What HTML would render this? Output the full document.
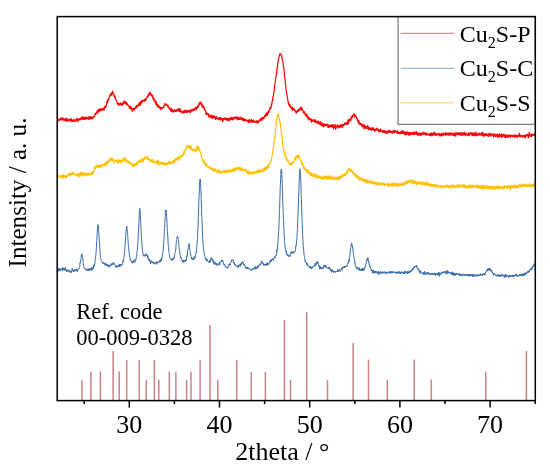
<!DOCTYPE html>
<html><head><meta charset="utf-8"><style>
html,body{margin:0;padding:0;background:#fff;}
svg{display:block;}
text{font-family:"Liberation Serif","Times New Roman",serif;fill:#000;}
</style></head><body>
<svg width="550" height="474" viewBox="0 0 550 474">
<rect width="550" height="474" fill="#fff"/>
<g fill="none" stroke-linejoin="round">
<path d="M57.2 119.9L57.4 120.1L57.6 119.6L57.8 119.1L58.0 119.5L58.2 119.0L58.4 119.9L58.6 120.9L58.8 119.4L59.0 119.3L59.2 120.2L59.4 120.1L59.6 119.9L59.8 119.0L60.0 119.7L60.2 120.3L60.4 118.6L60.6 119.4L60.8 118.1L61.0 118.6L61.2 118.2L61.4 119.5L61.6 118.6L61.8 119.9L62.0 119.8L62.2 119.6L62.4 117.6L62.6 119.3L62.8 119.7L63.0 119.8L63.2 118.4L63.4 119.3L63.6 118.9L63.8 119.0L64.0 120.6L64.2 119.0L64.4 119.7L64.6 120.5L64.8 119.2L65.0 119.6L65.2 119.8L65.4 119.8L65.6 118.7L65.8 119.8L66.0 120.9L66.2 118.4L66.4 120.4L66.6 119.8L66.8 119.2L67.0 121.5L67.2 120.4L67.4 118.8L67.6 119.9L67.8 120.3L68.0 119.7L68.2 120.5L68.4 119.8L68.6 120.5L68.8 121.2L69.0 119.4L69.2 120.2L69.4 119.6L69.6 120.2L69.8 119.1L70.0 119.6L70.2 120.0L70.4 120.9L70.6 121.2L70.8 119.1L71.0 119.6L71.2 120.8L71.4 118.6L71.6 119.9L71.8 120.2L72.0 121.4L72.2 120.9L72.4 120.1L72.6 120.1L72.8 120.2L73.0 121.7L73.2 120.0L73.4 120.1L73.6 120.7L73.8 120.3L74.0 120.2L74.2 119.4L74.4 120.3L74.6 120.0L74.8 121.3L75.0 120.9L75.2 120.3L75.4 120.8L75.6 119.9L75.8 121.1L76.0 120.1L76.2 120.6L76.4 119.0L76.6 120.3L76.8 118.6L77.0 118.2L77.2 119.6L77.4 119.1L77.6 119.9L77.8 121.7L78.0 119.0L78.2 119.1L78.4 119.8L78.6 120.0L78.8 119.3L79.0 119.3L79.2 120.0L79.4 119.8L79.6 118.4L79.8 119.2L80.0 119.2L80.2 118.2L80.4 119.3L80.6 118.3L80.8 119.8L81.0 119.1L81.2 118.9L81.4 118.3L81.6 118.7L81.8 117.0L82.0 117.7L82.2 118.9L82.4 116.8L82.6 119.3L82.8 117.0L83.0 119.1L83.2 117.7L83.4 119.1L83.6 118.5L83.8 117.1L84.0 119.4L84.2 119.5L84.4 118.2L84.6 118.0L84.8 118.1L85.0 117.4L85.2 119.2L85.4 117.7L85.6 118.2L85.8 117.5L86.0 117.6L86.2 117.1L86.4 119.2L86.6 118.0L86.8 119.0L87.0 118.1L87.2 117.5L87.4 117.8L87.6 117.6L87.8 118.1L88.0 117.8L88.2 117.8L88.4 116.9L88.6 117.4L88.8 119.5L89.0 117.5L89.2 117.1L89.4 118.3L89.6 119.2L89.8 116.8L90.0 117.8L90.2 117.5L90.4 116.5L90.6 118.6L90.8 117.9L91.0 118.0L91.2 117.3L91.4 118.3L91.6 117.4L91.8 117.7L92.0 116.9L92.2 116.8L92.4 118.9L92.6 117.3L92.8 118.0L93.0 117.7L93.2 117.2L93.4 117.0L93.6 117.7L93.8 116.6L94.0 116.4L94.2 116.2L94.4 116.8L94.6 116.0L94.8 115.4L95.0 114.2L95.2 113.2L95.4 114.9L95.6 114.7L95.8 113.5L96.0 113.8L96.2 113.7L96.4 113.4L96.6 113.3L96.8 111.8L97.0 113.3L97.2 110.7L97.4 112.3L97.6 111.8L97.8 112.0L98.0 112.7L98.2 112.3L98.4 110.0L98.6 109.4L98.8 111.5L99.0 109.8L99.2 110.6L99.4 111.3L99.6 109.1L99.8 108.7L100.0 110.6L100.2 110.4L100.4 110.1L100.6 110.3L100.8 109.5L101.0 108.9L101.2 110.0L101.4 109.2L101.6 108.6L101.8 110.4L102.0 109.8L102.2 110.1L102.4 108.9L102.6 109.0L102.8 108.7L103.0 108.6L103.2 109.4L103.4 108.4L103.6 109.3L103.8 109.1L104.0 110.3L104.2 107.2L104.4 108.9L104.6 107.9L104.8 107.7L105.0 106.2L105.2 106.8L105.4 107.6L105.6 106.6L105.8 106.4L106.0 105.6L106.2 106.4L106.4 104.9L106.6 102.5L106.8 103.2L107.0 101.6L107.2 100.0L107.4 101.7L107.6 102.8L107.8 101.2L108.0 99.6L108.2 99.3L108.4 100.5L108.6 99.1L108.8 98.4L109.0 97.8L109.2 97.3L109.4 97.5L109.6 96.9L109.8 96.2L110.0 94.9L110.2 95.9L110.4 94.6L110.6 95.8L110.8 93.5L111.0 94.2L111.2 94.1L111.4 92.8L111.6 95.2L111.8 94.8L112.0 93.0L112.2 93.9L112.4 93.5L112.6 91.0L112.8 93.5L113.0 93.3L113.2 93.6L113.4 92.9L113.6 93.9L113.8 94.3L114.0 95.9L114.2 95.6L114.4 95.8L114.6 97.5L114.8 96.2L115.0 96.8L115.2 96.0L115.4 99.2L115.6 99.1L115.8 99.5L116.0 99.7L116.2 99.7L116.4 100.3L116.6 100.4L116.8 101.0L117.0 101.7L117.2 103.4L117.4 103.1L117.6 103.0L117.8 102.9L118.0 103.2L118.2 105.4L118.4 104.6L118.6 104.3L118.8 104.0L119.0 103.4L119.2 104.2L119.4 105.0L119.6 104.0L119.8 104.1L120.0 104.1L120.2 104.3L120.4 102.9L120.6 104.0L120.8 103.5L121.0 105.0L121.2 103.5L121.4 104.7L121.6 105.4L121.8 103.9L122.0 103.6L122.2 104.2L122.4 103.9L122.6 102.9L122.8 104.0L123.0 105.1L123.2 102.9L123.4 102.7L123.6 101.8L123.8 102.7L124.0 101.2L124.2 101.1L124.4 103.1L124.6 101.1L124.8 102.8L125.0 103.2L125.2 102.3L125.4 102.6L125.6 104.0L125.8 102.4L126.0 102.2L126.2 101.8L126.4 103.3L126.6 104.7L126.8 104.6L127.0 103.2L127.2 103.6L127.4 104.1L127.6 105.0L127.8 104.8L128.0 105.4L128.2 105.6L128.4 105.3L128.6 105.8L128.8 106.2L129.0 106.2L129.2 106.9L129.4 108.3L129.6 107.5L129.8 107.2L130.0 106.0L130.2 108.0L130.4 106.2L130.6 106.9L130.8 109.0L131.0 109.1L131.2 108.5L131.4 107.4L131.6 108.7L131.8 108.6L132.0 109.8L132.2 111.3L132.4 109.6L132.6 108.8L132.8 108.5L133.0 109.4L133.2 109.3L133.4 108.4L133.6 109.5L133.8 108.3L134.0 110.1L134.2 110.0L134.4 109.8L134.6 108.4L134.8 109.1L135.0 108.3L135.2 107.9L135.4 107.8L135.6 106.8L135.8 106.5L136.0 108.2L136.2 107.2L136.4 107.3L136.6 107.8L136.8 105.3L137.0 105.9L137.2 106.5L137.4 106.5L137.6 105.7L137.8 106.7L138.0 105.8L138.2 104.4L138.4 104.4L138.6 105.7L138.8 105.1L139.0 102.9L139.2 105.4L139.4 104.6L139.6 105.0L139.8 103.3L140.0 103.1L140.2 102.2L140.4 105.1L140.6 102.6L140.8 103.9L141.0 101.8L141.2 102.3L141.4 100.6L141.6 101.6L141.8 102.6L142.0 100.6L142.2 102.5L142.4 101.8L142.6 100.5L142.8 100.9L143.0 100.8L143.2 101.1L143.4 100.6L143.6 100.3L143.8 100.7L144.0 100.0L144.2 99.6L144.4 100.6L144.6 101.3L144.8 99.1L145.0 100.2L145.2 99.5L145.4 99.0L145.6 100.3L145.8 98.8L146.0 100.3L146.2 98.0L146.4 98.7L146.6 97.8L146.8 97.0L147.0 97.9L147.2 96.9L147.4 97.3L147.6 96.5L147.8 95.3L148.0 95.8L148.2 95.7L148.4 96.1L148.6 94.2L148.8 94.7L149.0 93.0L149.2 94.8L149.4 93.1L149.6 92.4L149.8 93.8L150.0 94.9L150.2 92.7L150.4 93.2L150.6 93.6L150.8 93.4L151.0 94.9L151.2 94.1L151.4 94.4L151.6 95.8L151.8 94.9L152.0 96.2L152.2 95.3L152.4 95.3L152.6 95.1L152.8 98.5L153.0 97.0L153.2 97.8L153.4 98.0L153.6 98.6L153.8 98.9L154.0 100.9L154.2 98.9L154.4 98.9L154.6 99.8L154.8 99.9L155.0 102.1L155.2 102.6L155.4 101.5L155.6 101.5L155.8 102.7L156.0 104.5L156.2 101.3L156.4 104.4L156.6 103.4L156.8 105.5L157.0 104.0L157.2 105.0L157.4 104.3L157.6 105.0L157.8 107.3L158.0 107.1L158.2 106.3L158.4 106.1L158.6 105.4L158.8 106.9L159.0 107.3L159.2 107.4L159.4 107.5L159.6 106.7L159.8 107.7L160.0 107.8L160.2 109.0L160.4 109.6L160.6 107.9L160.8 107.5L161.0 108.1L161.2 107.7L161.4 107.7L161.6 108.3L161.8 107.5L162.0 108.9L162.2 108.3L162.4 108.6L162.6 108.2L162.8 107.6L163.0 107.3L163.2 107.6L163.4 107.1L163.6 107.5L163.8 106.9L164.0 105.4L164.2 106.3L164.4 104.8L164.6 105.1L164.8 105.1L165.0 103.4L165.2 105.0L165.4 105.0L165.6 104.7L165.8 104.5L166.0 104.5L166.2 104.1L166.4 104.8L166.6 104.7L166.8 105.4L167.0 104.5L167.2 105.9L167.4 106.0L167.6 106.0L167.8 105.9L168.0 107.0L168.2 105.4L168.4 107.4L168.6 107.5L168.8 107.8L169.0 108.1L169.2 107.5L169.4 108.1L169.6 109.1L169.8 109.1L170.0 109.2L170.2 108.0L170.4 110.0L170.6 110.9L170.8 111.0L171.0 110.7L171.2 109.3L171.4 111.6L171.6 110.7L171.8 108.6L172.0 111.1L172.2 109.5L172.4 109.7L172.6 110.2L172.8 111.9L173.0 110.4L173.2 111.0L173.4 112.2L173.6 112.1L173.8 110.6L174.0 110.5L174.2 109.6L174.4 110.1L174.6 111.0L174.8 111.0L175.0 110.7L175.2 111.5L175.4 110.0L175.6 110.5L175.8 111.2L176.0 111.1L176.2 111.5L176.4 110.9L176.6 110.3L176.8 110.8L177.0 109.7L177.2 109.1L177.4 111.0L177.6 110.5L177.8 110.8L178.0 109.1L178.2 110.2L178.4 110.0L178.6 109.8L178.8 108.6L179.0 110.3L179.2 111.4L179.4 111.0L179.6 110.2L179.8 110.7L180.0 111.5L180.2 108.5L180.4 110.8L180.6 111.5L180.8 111.6L181.0 112.6L181.2 112.1L181.4 111.5L181.6 111.5L181.8 112.0L182.0 110.9L182.2 111.4L182.4 112.3L182.6 113.2L182.8 111.4L183.0 111.5L183.2 111.8L183.4 112.7L183.6 111.6L183.8 112.8L184.0 110.8L184.2 111.4L184.4 111.4L184.6 112.2L184.8 112.5L185.0 110.3L185.2 110.8L185.4 111.8L185.6 111.0L185.8 110.2L186.0 112.4L186.2 111.9L186.4 111.9L186.6 111.0L186.8 112.3L187.0 111.2L187.2 112.3L187.4 110.5L187.6 110.6L187.8 111.4L188.0 110.6L188.2 111.8L188.4 111.4L188.6 110.3L188.8 111.1L189.0 110.7L189.2 111.8L189.4 110.4L189.6 110.6L189.8 111.9L190.0 112.7L190.2 112.5L190.4 110.8L190.6 110.9L190.8 112.0L191.0 110.5L191.2 109.7L191.4 110.6L191.6 110.9L191.8 109.7L192.0 109.0L192.2 109.1L192.4 110.8L192.6 109.6L192.8 110.0L193.0 110.2L193.2 110.5L193.4 109.6L193.6 110.2L193.8 108.9L194.0 109.2L194.2 108.5L194.4 110.2L194.6 109.1L194.8 108.3L195.0 108.5L195.2 108.4L195.4 109.1L195.6 107.0L195.8 107.3L196.0 107.7L196.2 110.0L196.4 108.5L196.6 107.4L196.8 107.9L197.0 108.9L197.2 106.7L197.4 106.3L197.6 107.4L197.8 106.5L198.0 106.4L198.2 105.1L198.4 106.9L198.6 106.4L198.8 105.2L199.0 105.0L199.2 102.5L199.4 104.6L199.6 103.7L199.8 104.1L200.0 104.2L200.2 103.2L200.4 102.1L200.6 103.8L200.8 103.0L201.0 103.5L201.2 103.4L201.4 103.9L201.6 102.5L201.8 105.8L202.0 105.3L202.2 106.3L202.4 107.4L202.6 106.1L202.8 104.8L203.0 105.9L203.2 106.0L203.4 106.9L203.6 107.7L203.8 106.3L204.0 108.7L204.2 107.6L204.4 109.5L204.6 109.6L204.8 109.9L205.0 110.5L205.2 110.5L205.4 110.9L205.6 110.4L205.8 112.1L206.0 114.0L206.2 114.4L206.4 114.1L206.6 113.8L206.8 112.8L207.0 114.9L207.2 113.8L207.4 113.9L207.6 113.9L207.8 114.4L208.0 114.2L208.2 114.6L208.4 113.9L208.6 114.7L208.8 117.1L209.0 115.2L209.2 115.2L209.4 116.0L209.6 116.3L209.8 114.8L210.0 115.7L210.2 116.8L210.4 116.3L210.6 116.3L210.8 117.6L211.0 115.8L211.2 116.6L211.4 116.1L211.6 117.9L211.8 115.1L212.0 116.3L212.2 116.5L212.4 117.5L212.6 117.6L212.8 118.3L213.0 115.9L213.2 117.9L213.4 117.1L213.6 116.9L213.8 117.9L214.0 116.8L214.2 115.8L214.4 117.4L214.6 116.5L214.8 117.2L215.0 118.2L215.2 118.2L215.4 119.3L215.6 117.8L215.8 116.8L216.0 117.5L216.2 117.4L216.4 117.2L216.6 118.6L216.8 117.7L217.0 116.7L217.2 119.0L217.4 118.3L217.6 118.8L217.8 118.6L218.0 119.1L218.2 118.6L218.4 119.7L218.6 119.0L218.8 119.0L219.0 119.1L219.2 117.5L219.4 118.7L219.6 118.6L219.8 119.1L220.0 117.8L220.2 120.4L220.4 119.1L220.6 118.0L220.8 117.6L221.0 118.9L221.2 119.1L221.4 118.6L221.6 119.3L221.8 118.7L222.0 119.7L222.2 118.7L222.4 119.3L222.6 120.2L222.8 121.6L223.0 118.5L223.2 119.0L223.4 118.7L223.6 120.1L223.8 118.5L224.0 119.1L224.2 119.5L224.4 118.7L224.6 118.7L224.8 119.1L225.0 117.7L225.2 118.3L225.4 119.1L225.6 119.6L225.8 119.3L226.0 118.0L226.2 119.1L226.4 120.1L226.6 119.9L226.8 119.3L227.0 118.6L227.2 119.9L227.4 118.8L227.6 118.3L227.8 118.6L228.0 120.4L228.2 119.4L228.4 120.1L228.6 118.7L228.8 119.9L229.0 118.5L229.2 118.8L229.4 121.0L229.6 119.5L229.8 118.4L230.0 118.7L230.2 119.0L230.4 119.7L230.6 118.3L230.8 117.1L231.0 118.3L231.2 118.6L231.4 118.6L231.6 119.6L231.8 118.7L232.0 119.1L232.2 117.4L232.4 119.0L232.6 120.0L232.8 118.9L233.0 118.4L233.2 118.3L233.4 119.6L233.6 117.3L233.8 117.9L234.0 118.4L234.2 118.6L234.4 117.6L234.6 118.2L234.8 117.7L235.0 118.0L235.2 117.7L235.4 116.9L235.6 117.8L235.8 118.6L236.0 117.0L236.2 117.6L236.4 118.4L236.6 116.9L236.8 118.0L237.0 116.9L237.2 118.8L237.4 119.8L237.6 119.6L237.8 117.7L238.0 118.6L238.2 118.1L238.4 118.1L238.6 119.4L238.8 117.0L239.0 119.0L239.2 118.1L239.4 119.4L239.6 118.4L239.8 117.8L240.0 118.6L240.2 119.1L240.4 118.5L240.6 119.0L240.8 118.2L241.0 116.9L241.2 119.5L241.4 119.4L241.6 119.0L241.8 119.0L242.0 119.9L242.2 118.7L242.4 118.6L242.6 119.1L242.8 120.3L243.0 118.2L243.2 120.5L243.4 119.0L243.6 118.6L243.8 120.7L244.0 119.6L244.2 118.7L244.4 119.5L244.6 120.7L244.8 121.0L245.0 119.7L245.2 120.5L245.4 120.8L245.6 119.7L245.8 120.6L246.0 120.3L246.2 119.9L246.4 120.0L246.6 120.5L246.8 120.5L247.0 120.1L247.2 120.2L247.4 121.6L247.6 120.9L247.8 121.5L248.0 121.7L248.2 121.3L248.4 122.7L248.6 120.1L248.8 121.5L249.0 120.6L249.2 122.5L249.4 122.4L249.6 119.3L249.8 120.1L250.0 121.6L250.2 121.7L250.4 121.7L250.6 121.0L250.8 121.5L251.0 121.7L251.2 121.1L251.4 122.1L251.6 119.3L251.8 121.8L252.0 120.4L252.2 122.1L252.4 121.1L252.6 120.6L252.8 121.7L253.0 120.6L253.2 120.6L253.4 120.1L253.6 121.4L253.8 121.9L254.0 122.3L254.2 121.3L254.4 122.4L254.6 121.5L254.8 121.4L255.0 122.0L255.2 122.4L255.4 121.3L255.6 121.4L255.8 121.4L256.0 121.6L256.2 120.8L256.4 122.5L256.6 121.3L256.8 122.0L257.0 120.9L257.2 121.9L257.4 121.9L257.6 121.2L257.8 123.3L258.0 121.8L258.2 123.0L258.4 122.2L258.6 120.8L258.8 120.9L259.0 121.5L259.2 121.1L259.4 121.0L259.6 120.6L259.8 119.2L260.0 120.4L260.2 118.6L260.4 120.7L260.6 119.6L260.8 119.5L261.0 119.8L261.2 120.1L261.4 118.5L261.6 118.1L261.8 118.5L262.0 117.5L262.2 118.2L262.4 120.2L262.6 117.7L262.8 119.0L263.0 117.0L263.2 118.2L263.4 117.5L263.6 117.5L263.8 117.8L264.0 118.5L264.2 117.0L264.4 116.7L264.6 115.5L264.8 116.6L265.0 115.7L265.2 116.4L265.4 115.4L265.6 116.7L265.8 113.4L266.0 114.6L266.2 115.4L266.4 114.1L266.6 113.6L266.8 113.8L267.0 112.6L267.2 113.7L267.4 115.4L267.6 114.1L267.8 112.0L268.0 111.9L268.2 112.0L268.4 113.0L268.6 111.1L268.8 111.0L269.0 112.0L269.2 111.6L269.4 110.2L269.6 109.2L269.8 108.5L270.0 108.8L270.2 107.0L270.4 109.0L270.6 107.3L270.8 107.6L271.0 108.2L271.2 106.9L271.4 104.2L271.6 105.2L271.8 104.7L272.0 102.3L272.2 101.3L272.4 101.1L272.6 99.0L272.8 100.6L273.0 96.2L273.2 96.1L273.4 95.5L273.6 94.2L273.8 93.1L274.0 91.7L274.2 89.8L274.4 89.4L274.6 85.1L274.8 85.4L275.0 83.3L275.2 82.6L275.4 81.3L275.6 78.9L275.8 77.6L276.0 77.3L276.2 75.3L276.4 72.9L276.6 73.6L276.8 72.3L277.0 67.6L277.2 67.6L277.4 68.0L277.6 65.2L277.8 63.4L278.0 61.8L278.2 60.4L278.4 59.7L278.6 58.4L278.8 58.5L279.0 56.7L279.2 55.9L279.4 54.7L279.6 55.1L279.8 53.9L280.0 54.0L280.2 54.7L280.4 53.9L280.6 54.1L280.8 54.2L281.0 54.4L281.2 54.8L281.4 55.3L281.6 56.9L281.8 56.1L282.0 58.9L282.2 58.5L282.4 58.8L282.6 59.9L282.8 60.9L283.0 62.7L283.2 63.4L283.4 66.6L283.6 66.7L283.8 67.3L284.0 70.4L284.2 71.2L284.4 74.6L284.6 77.2L284.8 78.5L285.0 78.5L285.2 80.6L285.4 84.4L285.6 84.8L285.8 86.1L286.0 88.5L286.2 91.2L286.4 91.6L286.6 92.1L286.8 93.8L287.0 95.6L287.2 96.0L287.4 97.0L287.6 99.2L287.8 99.4L288.0 101.1L288.2 101.9L288.4 104.5L288.6 102.4L288.8 103.6L289.0 104.0L289.2 105.1L289.4 106.0L289.6 105.2L289.8 105.3L290.0 104.9L290.2 105.9L290.4 107.4L290.6 107.3L290.8 106.6L291.0 107.4L291.2 108.0L291.4 108.6L291.6 107.8L291.8 108.3L292.0 107.1L292.2 107.9L292.4 110.4L292.6 107.3L292.8 109.0L293.0 109.6L293.2 109.2L293.4 109.0L293.6 109.8L293.8 109.9L294.0 110.0L294.2 108.6L294.4 110.2L294.6 109.8L294.8 110.2L295.0 111.0L295.2 111.5L295.4 111.9L295.6 110.8L295.8 112.1L296.0 112.5L296.2 112.6L296.4 112.9L296.6 111.6L296.8 111.6L297.0 112.5L297.2 110.6L297.4 111.9L297.6 111.1L297.8 111.1L298.0 109.7L298.2 110.2L298.4 110.7L298.6 111.3L298.8 111.1L299.0 109.9L299.2 109.5L299.4 108.7L299.6 109.5L299.8 108.8L300.0 109.3L300.2 110.1L300.4 108.5L300.6 107.2L300.8 107.7L301.0 107.2L301.2 107.5L301.4 109.7L301.6 109.0L301.8 107.7L302.0 109.8L302.2 110.5L302.4 109.4L302.6 109.4L302.8 110.0L303.0 110.9L303.2 111.5L303.4 112.3L303.6 112.7L303.8 113.0L304.0 113.4L304.2 113.1L304.4 111.5L304.6 113.0L304.8 113.6L305.0 113.3L305.2 114.6L305.4 113.8L305.6 113.6L305.8 115.9L306.0 115.5L306.2 115.4L306.4 116.3L306.6 116.7L306.8 116.3L307.0 114.2L307.2 116.0L307.4 116.5L307.6 116.3L307.8 117.5L308.0 118.6L308.2 117.4L308.4 117.0L308.6 119.9L308.8 118.0L309.0 117.5L309.2 118.9L309.4 119.2L309.6 118.3L309.8 119.7L310.0 118.7L310.2 118.4L310.4 119.5L310.6 120.1L310.8 119.0L311.0 119.9L311.2 119.6L311.4 122.1L311.6 119.2L311.8 121.1L312.0 119.9L312.2 119.9L312.4 120.7L312.6 120.9L312.8 121.3L313.0 120.5L313.2 119.8L313.4 119.9L313.6 120.9L313.8 121.0L314.0 121.7L314.2 120.9L314.4 121.6L314.6 122.0L314.8 120.9L315.0 119.6L315.2 119.9L315.4 119.7L315.6 122.4L315.8 120.4L316.0 122.2L316.2 121.8L316.4 122.8L316.6 122.3L316.8 121.4L317.0 121.4L317.2 121.8L317.4 122.0L317.6 121.5L317.8 122.0L318.0 123.6L318.2 120.9L318.4 122.7L318.6 121.9L318.8 122.9L319.0 123.6L319.2 123.0L319.4 123.9L319.6 122.0L319.8 124.4L320.0 123.1L320.2 124.2L320.4 124.0L320.6 121.7L320.8 123.3L321.0 124.2L321.2 125.4L321.4 124.4L321.6 124.4L321.8 123.1L322.0 125.6L322.2 125.9L322.4 124.5L322.6 124.3L322.8 123.2L323.0 125.4L323.2 127.0L323.4 125.4L323.6 125.9L323.8 125.3L324.0 124.1L324.2 126.1L324.4 124.0L324.6 124.9L324.8 125.4L325.0 125.9L325.2 125.6L325.4 125.6L325.6 124.7L325.8 124.3L326.0 125.5L326.2 124.9L326.4 124.4L326.6 124.5L326.8 125.2L327.0 124.1L327.2 124.5L327.4 124.3L327.6 125.9L327.8 126.2L328.0 127.6L328.2 124.6L328.4 125.4L328.6 126.7L328.8 125.8L329.0 125.8L329.2 127.5L329.4 125.8L329.6 125.2L329.8 125.1L330.0 126.5L330.2 126.5L330.4 125.1L330.6 125.5L330.8 126.8L331.0 126.9L331.2 125.8L331.4 126.9L331.6 126.9L331.8 124.9L332.0 126.2L332.2 126.9L332.4 126.0L332.6 124.7L332.8 126.3L333.0 127.2L333.2 127.9L333.4 124.7L333.6 128.8L333.8 125.7L334.0 127.5L334.2 127.7L334.4 127.5L334.6 126.8L334.8 125.7L335.0 127.2L335.2 126.1L335.4 124.6L335.6 129.1L335.8 127.3L336.0 128.2L336.2 125.9L336.4 127.9L336.6 128.0L336.8 128.0L337.0 126.6L337.2 125.6L337.4 126.5L337.6 124.7L337.8 125.1L338.0 126.6L338.2 125.7L338.4 126.3L338.6 126.3L338.8 128.0L339.0 127.4L339.2 126.3L339.4 127.3L339.6 125.5L339.8 125.9L340.0 126.9L340.2 125.0L340.4 125.8L340.6 124.8L340.8 126.0L341.0 127.2L341.2 125.1L341.4 125.9L341.6 124.9L341.8 124.6L342.0 124.4L342.2 126.6L342.4 127.3L342.6 125.7L342.8 124.6L343.0 125.7L343.2 124.8L343.4 125.6L343.6 125.1L343.8 125.1L344.0 125.3L344.2 124.2L344.4 124.2L344.6 123.0L344.8 124.0L345.0 123.1L345.2 124.1L345.4 123.3L345.6 124.1L345.8 124.3L346.0 122.5L346.2 122.9L346.4 122.7L346.6 124.0L346.8 124.6L347.0 123.7L347.2 122.6L347.4 123.9L347.6 121.2L347.8 123.6L348.0 121.6L348.2 119.6L348.4 124.1L348.6 122.9L348.8 120.5L349.0 121.3L349.2 120.8L349.4 120.8L349.6 119.2L349.8 119.6L350.0 120.3L350.2 119.8L350.4 120.4L350.6 119.1L350.8 120.8L351.0 117.9L351.2 118.5L351.4 116.4L351.6 116.7L351.8 118.6L352.0 116.4L352.2 117.3L352.4 116.5L352.6 115.3L352.8 115.6L353.0 115.1L353.2 114.9L353.4 115.7L353.6 115.4L353.8 114.2L354.0 113.8L354.2 114.7L354.4 114.5L354.6 115.5L354.8 117.1L355.0 115.8L355.2 115.3L355.4 115.5L355.6 115.3L355.8 115.7L356.0 116.0L356.2 116.9L356.4 117.3L356.6 118.7L356.8 118.1L357.0 118.6L357.2 118.1L357.4 120.8L357.6 120.1L357.8 121.5L358.0 121.0L358.2 121.9L358.4 120.8L358.6 121.9L358.8 124.0L359.0 120.9L359.2 123.3L359.4 124.0L359.6 123.2L359.8 123.8L360.0 124.5L360.2 123.1L360.4 124.3L360.6 123.4L360.8 123.7L361.0 124.0L361.2 124.5L361.4 124.9L361.6 125.3L361.8 123.8L362.0 126.9L362.2 126.4L362.4 126.1L362.6 125.3L362.8 125.6L363.0 126.3L363.2 126.3L363.4 124.6L363.6 126.8L363.8 128.8L364.0 124.7L364.2 127.3L364.4 126.8L364.6 126.5L364.8 127.9L365.0 125.7L365.2 127.0L365.4 128.2L365.6 126.8L365.8 126.7L366.0 127.3L366.2 126.8L366.4 128.7L366.6 126.6L366.8 128.2L367.0 126.4L367.2 128.2L367.4 127.6L367.6 125.5L367.8 127.8L368.0 126.9L368.2 127.5L368.4 129.3L368.6 127.0L368.8 127.2L369.0 129.4L369.2 128.3L369.4 129.6L369.6 128.6L369.8 127.6L370.0 128.4L370.2 129.5L370.4 129.3L370.6 128.6L370.8 128.7L371.0 128.6L371.2 128.2L371.4 130.5L371.6 128.8L371.8 127.9L372.0 128.5L372.2 129.6L372.4 129.6L372.6 128.9L372.8 128.5L373.0 129.2L373.2 127.7L373.4 128.1L373.6 130.0L373.8 128.9L374.0 129.7L374.2 130.5L374.4 130.0L374.6 129.5L374.8 131.4L375.0 130.2L375.2 129.4L375.4 130.3L375.6 130.1L375.8 129.1L376.0 129.9L376.2 129.8L376.4 128.2L376.6 129.8L376.8 129.8L377.0 129.7L377.2 128.7L377.4 129.9L377.6 130.2L377.8 130.4L378.0 129.3L378.2 130.9L378.4 129.4L378.6 130.3L378.8 131.7L379.0 130.0L379.2 130.2L379.4 131.6L379.6 130.4L379.8 130.5L380.0 131.0L380.2 131.7L380.4 128.9L380.6 130.2L380.8 130.1L381.0 130.0L381.2 130.3L381.4 130.3L381.6 131.4L381.8 130.4L382.0 131.3L382.2 131.6L382.4 130.6L382.6 131.4L382.8 132.7L383.0 131.6L383.2 130.8L383.4 131.4L383.6 130.6L383.8 131.7L384.0 132.2L384.2 130.8L384.4 131.4L384.6 132.5L384.8 131.1L385.0 131.8L385.2 130.7L385.4 130.9L385.6 131.2L385.8 133.5L386.0 131.3L386.2 131.3L386.4 131.2L386.6 131.6L386.8 132.3L387.0 131.9L387.2 133.5L387.4 132.0L387.6 133.0L387.8 132.1L388.0 132.3L388.2 130.6L388.4 131.7L388.6 131.8L388.8 131.7L389.0 130.1L389.2 132.7L389.4 131.6L389.6 131.6L389.8 131.7L390.0 131.8L390.2 132.3L390.4 130.9L390.6 131.2L390.8 132.2L391.0 132.1L391.2 131.7L391.4 131.5L391.6 131.3L391.8 132.0L392.0 133.1L392.2 131.2L392.4 133.4L392.6 132.8L392.8 131.7L393.0 132.8L393.2 130.9L393.4 130.7L393.6 131.0L393.8 131.8L394.0 131.9L394.2 131.7L394.4 132.3L394.6 130.4L394.8 132.6L395.0 131.0L395.2 131.7L395.4 131.9L395.6 131.3L395.8 131.1L396.0 131.5L396.2 132.3L396.4 132.8L396.6 132.8L396.8 131.5L397.0 131.7L397.2 131.6L397.4 132.8L397.6 130.7L397.8 133.5L398.0 132.1L398.2 131.8L398.4 132.8L398.6 133.4L398.8 132.8L399.0 133.4L399.2 132.7L399.4 133.6L399.6 133.7L399.8 132.5L400.0 133.9L400.2 132.8L400.4 132.7L400.6 131.9L400.8 132.5L401.0 133.4L401.2 131.6L401.4 133.3L401.6 133.1L401.8 133.0L402.0 130.9L402.2 132.7L402.4 133.4L402.6 132.2L402.8 133.0L403.0 130.9L403.2 133.5L403.4 132.4L403.6 133.7L403.8 131.4L404.0 133.6L404.2 132.8L404.4 133.7L404.6 132.2L404.8 132.5L405.0 135.0L405.2 132.4L405.4 132.5L405.6 132.9L405.8 132.3L406.0 134.2L406.2 134.6L406.4 132.6L406.6 131.7L406.8 134.2L407.0 134.2L407.2 133.9L407.4 134.2L407.6 132.5L407.8 133.1L408.0 132.1L408.2 132.1L408.4 134.2L408.6 132.8L408.8 135.3L409.0 133.4L409.2 132.8L409.4 134.1L409.6 134.9L409.8 133.8L410.0 132.4L410.2 133.8L410.4 134.6L410.6 133.0L410.8 132.8L411.0 134.4L411.2 133.6L411.4 132.6L411.6 133.2L411.8 132.9L412.0 133.8L412.2 133.6L412.4 134.5L412.6 134.2L412.8 132.2L413.0 133.9L413.2 134.4L413.4 134.0L413.6 134.5L413.8 133.1L414.0 132.8L414.2 134.4L414.4 132.7L414.6 131.8L414.8 134.5L415.0 133.0L415.2 133.4L415.4 132.5L415.6 132.5L415.8 132.7L416.0 133.4L416.2 134.0L416.4 131.7L416.6 134.3L416.8 132.7L417.0 132.8L417.2 134.3L417.4 133.7L417.6 132.4L417.8 135.3L418.0 133.0L418.2 134.0L418.4 133.9L418.6 135.0L418.8 133.4L419.0 134.6L419.2 133.1L419.4 134.7L419.6 133.1L419.8 133.5L420.0 135.4L420.2 134.1L420.4 133.9L420.6 135.7L420.8 134.1L421.0 133.1L421.2 134.4L421.4 132.8L421.6 134.8L421.8 134.9L422.0 133.3L422.2 133.3L422.4 134.0L422.6 133.9L422.8 133.0L423.0 134.3L423.2 132.1L423.4 133.5L423.6 133.5L423.8 133.6L424.0 134.1L424.2 132.8L424.4 134.4L424.6 133.7L424.8 133.3L425.0 132.7L425.2 132.9L425.4 134.2L425.6 133.1L425.8 134.0L426.0 134.8L426.2 134.8L426.4 135.2L426.6 133.7L426.8 133.0L427.0 134.8L427.2 134.2L427.4 134.9L427.6 134.0L427.8 135.0L428.0 134.7L428.2 134.6L428.4 134.4L428.6 134.3L428.8 134.2L429.0 134.2L429.2 134.8L429.4 133.5L429.6 135.5L429.8 133.9L430.0 134.8L430.2 133.9L430.4 133.8L430.6 135.7L430.8 133.7L431.0 132.9L431.2 133.4L431.4 133.7L431.6 135.8L431.8 134.2L432.0 134.8L432.2 133.2L432.4 134.3L432.6 134.6L432.8 135.6L433.0 133.4L433.2 134.6L433.4 134.3L433.6 133.2L433.8 134.0L434.0 133.8L434.2 132.1L434.4 134.6L434.6 134.5L434.8 133.7L435.0 132.9L435.2 135.3L435.4 134.3L435.6 135.0L435.8 135.3L436.0 133.7L436.2 134.8L436.4 133.9L436.6 134.1L436.8 134.0L437.0 134.1L437.2 135.1L437.4 134.2L437.6 134.0L437.8 133.9L438.0 134.4L438.2 133.4L438.4 133.7L438.6 134.1L438.8 133.7L439.0 134.0L439.2 133.6L439.4 135.9L439.6 135.3L439.8 134.5L440.0 134.1L440.2 136.0L440.4 134.4L440.6 134.1L440.8 134.4L441.0 134.4L441.2 135.4L441.4 134.2L441.6 136.0L441.8 133.4L442.0 134.8L442.2 133.3L442.4 135.7L442.6 133.9L442.8 134.1L443.0 135.0L443.2 135.3L443.4 133.3L443.6 133.9L443.8 133.0L444.0 134.3L444.2 134.1L444.4 133.9L444.6 133.6L444.8 133.9L445.0 133.6L445.2 134.6L445.4 135.5L445.6 132.6L445.8 134.1L446.0 133.8L446.2 134.6L446.4 133.4L446.6 134.1L446.8 133.3L447.0 134.8L447.2 134.3L447.4 134.0L447.6 134.5L447.8 134.0L448.0 132.9L448.2 134.7L448.4 134.4L448.6 134.0L448.8 135.0L449.0 135.2L449.2 133.2L449.4 133.5L449.6 135.5L449.8 135.4L450.0 133.5L450.2 133.1L450.4 133.6L450.6 133.7L450.8 132.8L451.0 134.2L451.2 133.0L451.4 133.1L451.6 134.9L451.8 133.5L452.0 134.0L452.2 134.6L452.4 134.8L452.6 133.8L452.8 134.1L453.0 133.4L453.2 135.6L453.4 134.6L453.6 133.1L453.8 134.1L454.0 134.7L454.2 134.5L454.4 135.6L454.6 135.2L454.8 133.6L455.0 134.0L455.2 133.0L455.4 134.3L455.6 134.2L455.8 136.3L456.0 134.1L456.2 132.3L456.4 133.5L456.6 134.1L456.8 133.0L457.0 133.3L457.2 133.7L457.4 134.3L457.6 133.9L457.8 133.3L458.0 134.7L458.2 133.5L458.4 133.6L458.6 132.8L458.8 133.3L459.0 134.6L459.2 132.6L459.4 133.9L459.6 134.6L459.8 133.7L460.0 134.2L460.2 133.1L460.4 135.1L460.6 134.9L460.8 134.2L461.0 132.5L461.2 133.1L461.4 134.8L461.6 135.5L461.8 134.3L462.0 135.1L462.2 133.5L462.4 133.8L462.6 134.0L462.8 134.4L463.0 132.7L463.2 134.8L463.4 135.1L463.6 133.0L463.8 132.8L464.0 134.3L464.2 133.4L464.4 132.0L464.6 134.7L464.8 134.1L465.0 133.6L465.2 135.8L465.4 134.1L465.6 133.4L465.8 134.1L466.0 133.1L466.2 133.4L466.4 134.3L466.6 133.5L466.8 133.6L467.0 135.4L467.2 134.7L467.4 134.7L467.6 134.4L467.8 134.4L468.0 135.2L468.2 134.0L468.4 135.6L468.6 133.2L468.8 133.8L469.0 132.8L469.2 133.7L469.4 134.4L469.6 135.2L469.8 133.4L470.0 134.0L470.2 133.7L470.4 133.4L470.6 133.0L470.8 134.1L471.0 132.5L471.2 134.1L471.4 134.0L471.6 133.4L471.8 133.1L472.0 132.8L472.2 135.6L472.4 132.9L472.6 135.3L472.8 134.5L473.0 133.7L473.2 133.0L473.4 134.9L473.6 135.5L473.8 133.2L474.0 133.7L474.2 134.9L474.4 134.3L474.6 135.7L474.8 133.5L475.0 134.5L475.2 132.9L475.4 135.8L475.6 133.4L475.8 132.1L476.0 133.9L476.2 133.9L476.4 135.7L476.6 133.7L476.8 134.0L477.0 134.5L477.2 135.4L477.4 134.0L477.6 134.9L477.8 134.5L478.0 133.8L478.2 134.2L478.4 134.1L478.6 133.3L478.8 135.1L479.0 132.9L479.2 135.1L479.4 135.0L479.6 134.1L479.8 133.5L480.0 134.0L480.2 134.6L480.4 134.8L480.6 134.5L480.8 135.1L481.0 133.8L481.2 134.5L481.4 132.9L481.6 134.9L481.8 134.4L482.0 134.0L482.2 135.3L482.4 134.9L482.6 132.0L482.8 134.4L483.0 133.1L483.2 135.3L483.4 136.5L483.6 134.0L483.8 134.5L484.0 134.2L484.2 134.8L484.4 135.0L484.6 135.6L484.8 133.7L485.0 135.9L485.2 133.8L485.4 134.8L485.6 135.6L485.8 135.2L486.0 133.8L486.2 134.1L486.4 134.3L486.6 134.6L486.8 135.7L487.0 133.6L487.2 135.1L487.4 135.3L487.6 135.2L487.8 135.2L488.0 136.1L488.2 135.2L488.4 135.6L488.6 135.3L488.8 136.4L489.0 133.3L489.2 136.0L489.4 134.7L489.6 134.7L489.8 134.1L490.0 133.4L490.2 134.7L490.4 134.4L490.6 135.4L490.8 133.8L491.0 136.3L491.2 135.3L491.4 134.9L491.6 134.5L491.8 134.4L492.0 134.2L492.2 134.7L492.4 135.2L492.6 135.0L492.8 134.0L493.0 135.0L493.2 134.5L493.4 135.4L493.6 136.8L493.8 135.8L494.0 135.0L494.2 133.9L494.4 134.1L494.6 133.9L494.8 135.9L495.0 134.7L495.2 135.4L495.4 134.8L495.6 135.4L495.8 136.6L496.0 134.8L496.2 135.1L496.4 134.7L496.6 136.2L496.8 134.5L497.0 134.5L497.2 134.3L497.4 134.2L497.6 135.9L497.8 137.6L498.0 134.6L498.2 136.3L498.4 135.7L498.6 134.6L498.8 135.3L499.0 135.3L499.2 134.9L499.4 137.2L499.6 133.9L499.8 135.9L500.0 135.8L500.2 135.1L500.4 135.7L500.6 136.3L500.8 135.7L501.0 136.0L501.2 136.2L501.4 133.9L501.6 136.9L501.8 137.6L502.0 136.5L502.2 136.5L502.4 134.5L502.6 135.6L502.8 135.0L503.0 135.2L503.2 136.5L503.4 135.0L503.6 135.6L503.8 134.1L504.0 135.6L504.2 135.8L504.4 135.2L504.6 135.1L504.8 137.4L505.0 134.7L505.2 134.9L505.4 135.1L505.6 136.8L505.8 137.6L506.0 136.1L506.2 135.2L506.4 135.5L506.6 136.7L506.8 135.1L507.0 137.1L507.2 137.1L507.4 135.9L507.6 136.4L507.8 136.5L508.0 137.2L508.2 135.0L508.4 136.9L508.6 135.6L508.8 135.3L509.0 136.0L509.2 135.8L509.4 135.1L509.6 134.6L509.8 135.2L510.0 137.2L510.2 137.6L510.4 136.5L510.6 137.0L510.8 135.5L511.0 135.9L511.2 136.2L511.4 135.1L511.6 135.2L511.8 136.1L512.0 135.7L512.2 135.1L512.4 136.4L512.6 135.8L512.8 136.9L513.0 136.0L513.2 135.8L513.4 136.2L513.6 135.9L513.8 135.5L514.0 135.7L514.2 136.7L514.4 136.6L514.6 137.2L514.8 134.6L515.0 135.7L515.2 135.7L515.4 136.2L515.6 135.7L515.8 135.7L516.0 136.8L516.2 136.2L516.4 135.1L516.6 137.2L516.8 136.9L517.0 135.6L517.2 136.8L517.4 135.5L517.6 137.1L517.8 135.9L518.0 135.4L518.2 135.8L518.4 135.4L518.6 136.3L518.8 136.2L519.0 136.1L519.2 135.6L519.4 133.0L519.6 136.2L519.8 134.5L520.0 136.3L520.2 137.0L520.4 136.3L520.6 135.7L520.8 135.9L521.0 135.9L521.2 135.6L521.4 135.5L521.6 135.2L521.8 137.0L522.0 136.0L522.2 136.8L522.4 135.8L522.6 136.0L522.8 135.8L523.0 136.3L523.2 136.6L523.4 136.1L523.6 135.3L523.8 135.2L524.0 137.3L524.2 135.6L524.4 135.6L524.6 137.1L524.8 136.7L525.0 136.3L525.2 135.4L525.4 137.8L525.6 136.1L525.8 136.2L526.0 135.6L526.2 134.5L526.4 134.5L526.6 136.0L526.8 136.0L527.0 135.4L527.2 134.6L527.4 134.4L527.6 135.3L527.8 134.3L528.0 136.3L528.2 136.5L528.4 137.9L528.6 136.2L528.8 134.9L529.0 134.7L529.2 132.4L529.4 134.9L529.6 135.2L529.8 136.1L530.0 135.8L530.2 135.8L530.4 135.4L530.6 135.8L530.8 136.4L531.0 134.3L531.2 134.8L531.4 133.9L531.6 136.5L531.8 136.2L532.0 135.7L532.2 134.0L532.4 135.1L532.6 134.8L532.8 135.0L533.0 134.7L533.2 135.3L533.4 134.5L533.6 135.5L533.8 135.0L534.0 134.5L534.2 134.6L534.4 134.3L534.6 135.4L534.8 134.4L535.0 134.9L535.2 134.3" stroke="#fa0505" stroke-width="1.2"/>
<path d="M57.2 175.3L57.4 177.4L57.6 175.7L57.8 177.2L58.0 177.0L58.2 175.2L58.4 175.8L58.6 176.2L58.8 175.9L59.0 175.6L59.2 177.2L59.4 176.4L59.6 176.9L59.8 176.2L60.0 176.9L60.2 176.0L60.4 176.6L60.6 177.1L60.8 176.6L61.0 176.2L61.2 175.7L61.4 176.7L61.6 176.9L61.8 176.4L62.0 175.9L62.2 177.1L62.4 178.7L62.6 176.3L62.8 176.9L63.0 176.9L63.2 174.4L63.4 176.7L63.6 175.9L63.8 177.7L64.0 176.3L64.2 175.8L64.4 176.2L64.6 176.5L64.8 175.8L65.0 176.2L65.2 175.1L65.4 176.0L65.6 176.8L65.8 177.8L66.0 176.6L66.2 176.2L66.4 176.9L66.6 176.7L66.8 177.2L67.0 176.7L67.2 175.6L67.4 175.9L67.6 175.7L67.8 175.8L68.0 175.6L68.2 174.7L68.4 173.6L68.6 174.7L68.8 173.5L69.0 175.1L69.2 175.0L69.4 173.5L69.6 175.4L69.8 175.4L70.0 174.7L70.2 175.9L70.4 176.0L70.6 173.3L70.8 175.1L71.0 174.5L71.2 174.5L71.4 174.8L71.6 173.4L71.8 173.4L72.0 173.2L72.2 173.3L72.4 173.8L72.6 172.7L72.8 173.0L73.0 174.4L73.2 173.9L73.4 174.3L73.6 172.4L73.8 173.4L74.0 173.6L74.2 174.2L74.4 173.7L74.6 175.0L74.8 174.2L75.0 174.3L75.2 174.4L75.4 175.0L75.6 174.1L75.8 175.5L76.0 175.0L76.2 174.7L76.4 174.7L76.6 175.1L76.8 175.6L77.0 175.6L77.2 175.2L77.4 175.6L77.6 175.0L77.8 176.0L78.0 174.9L78.2 173.2L78.4 176.1L78.6 175.1L78.8 174.0L79.0 174.8L79.2 174.2L79.4 176.7L79.6 175.3L79.8 173.5L80.0 175.3L80.2 174.4L80.4 176.3L80.6 173.7L80.8 172.6L81.0 174.5L81.2 174.1L81.4 173.9L81.6 172.4L81.8 174.5L82.0 175.5L82.2 172.4L82.4 175.0L82.6 173.5L82.8 175.9L83.0 174.3L83.2 173.7L83.4 174.8L83.6 174.4L83.8 173.4L84.0 174.5L84.2 173.5L84.4 172.5L84.6 175.8L84.8 173.8L85.0 173.6L85.2 174.4L85.4 172.8L85.6 173.0L85.8 173.8L86.0 173.8L86.2 174.4L86.4 175.3L86.6 173.9L86.8 174.8L87.0 174.9L87.2 173.5L87.4 174.6L87.6 173.6L87.8 175.3L88.0 174.8L88.2 174.4L88.4 173.2L88.6 174.4L88.8 173.6L89.0 174.8L89.2 174.1L89.4 173.4L89.6 174.8L89.8 174.6L90.0 173.4L90.2 174.8L90.4 173.5L90.6 173.4L90.8 173.7L91.0 172.9L91.2 173.0L91.4 173.2L91.6 174.5L91.8 174.3L92.0 172.7L92.2 174.2L92.4 172.7L92.6 172.9L92.8 173.2L93.0 172.5L93.2 174.2L93.4 172.0L93.6 170.4L93.8 172.0L94.0 170.0L94.2 169.6L94.4 166.7L94.6 169.5L94.8 168.9L95.0 168.4L95.2 168.1L95.4 168.5L95.6 166.8L95.8 167.6L96.0 166.1L96.2 166.4L96.4 167.6L96.6 167.0L96.8 165.5L97.0 166.9L97.2 166.4L97.4 165.9L97.6 166.9L97.8 166.2L98.0 165.2L98.2 165.6L98.4 168.0L98.6 165.2L98.8 166.7L99.0 167.0L99.2 167.0L99.4 165.4L99.6 166.2L99.8 166.5L100.0 167.1L100.2 165.8L100.4 165.3L100.6 167.2L100.8 167.2L101.0 166.5L101.2 165.6L101.4 166.4L101.6 166.1L101.8 166.7L102.0 164.8L102.2 165.9L102.4 165.5L102.6 164.6L102.8 165.6L103.0 165.4L103.2 164.9L103.4 165.4L103.6 163.8L103.8 164.8L104.0 165.1L104.2 164.8L104.4 165.4L104.6 163.3L104.8 162.9L105.0 164.3L105.2 164.4L105.4 165.6L105.6 164.2L105.8 162.8L106.0 164.1L106.2 162.5L106.4 161.8L106.6 165.1L106.8 163.0L107.0 163.2L107.2 162.9L107.4 163.8L107.6 162.3L107.8 162.9L108.0 160.8L108.2 160.3L108.4 162.5L108.6 162.3L108.8 161.2L109.0 160.7L109.2 160.3L109.4 159.3L109.6 160.9L109.8 159.8L110.0 159.5L110.2 159.1L110.4 159.5L110.6 159.0L110.8 159.1L111.0 157.5L111.2 159.0L111.4 160.6L111.6 158.4L111.8 159.0L112.0 160.0L112.2 160.3L112.4 160.2L112.6 158.5L112.8 160.5L113.0 159.2L113.2 159.6L113.4 160.9L113.6 160.2L113.8 161.3L114.0 163.3L114.2 161.4L114.4 161.4L114.6 160.1L114.8 160.4L115.0 160.1L115.2 160.6L115.4 160.2L115.6 160.6L115.8 161.1L116.0 160.4L116.2 160.1L116.4 160.1L116.6 161.7L116.8 161.4L117.0 162.2L117.2 162.2L117.4 161.0L117.6 161.9L117.8 160.1L118.0 163.2L118.2 162.3L118.4 161.1L118.6 160.3L118.8 161.6L119.0 159.7L119.2 160.6L119.4 161.9L119.6 161.4L119.8 160.9L120.0 162.1L120.2 160.4L120.4 161.5L120.6 160.9L120.8 160.6L121.0 161.7L121.2 160.4L121.4 162.8L121.6 160.6L121.8 162.6L122.0 159.9L122.2 161.2L122.4 159.5L122.6 159.2L122.8 160.3L123.0 160.5L123.2 158.7L123.4 160.7L123.6 158.9L123.8 159.6L124.0 159.7L124.2 159.9L124.4 157.9L124.6 160.8L124.8 160.0L125.0 159.2L125.2 158.8L125.4 158.4L125.6 158.8L125.8 160.6L126.0 160.0L126.2 159.5L126.4 160.2L126.6 162.1L126.8 160.7L127.0 160.7L127.2 162.5L127.4 161.9L127.6 161.7L127.8 161.4L128.0 160.7L128.2 161.2L128.4 161.9L128.6 162.3L128.8 162.9L129.0 163.2L129.2 163.1L129.4 163.2L129.6 162.3L129.8 161.5L130.0 163.0L130.2 162.8L130.4 163.2L130.6 163.7L130.8 163.0L131.0 163.3L131.2 164.2L131.4 164.5L131.6 164.0L131.8 165.1L132.0 164.5L132.2 163.9L132.4 164.9L132.6 166.5L132.8 164.3L133.0 165.9L133.2 166.1L133.4 166.1L133.6 164.1L133.8 166.5L134.0 164.9L134.2 164.5L134.4 164.5L134.6 165.1L134.8 164.6L135.0 164.3L135.2 165.5L135.4 163.7L135.6 163.4L135.8 164.8L136.0 164.7L136.2 164.9L136.4 163.0L136.6 164.7L136.8 164.0L137.0 165.0L137.2 162.2L137.4 163.3L137.6 162.6L137.8 161.3L138.0 161.9L138.2 163.2L138.4 161.7L138.6 161.3L138.8 162.4L139.0 162.4L139.2 162.2L139.4 160.6L139.6 161.2L139.8 162.0L140.0 160.5L140.2 160.3L140.4 161.6L140.6 162.2L140.8 159.8L141.0 158.5L141.2 159.5L141.4 159.8L141.6 160.5L141.8 161.0L142.0 160.3L142.2 159.8L142.4 160.5L142.6 159.4L142.8 160.1L143.0 159.5L143.2 162.2L143.4 160.5L143.6 158.9L143.8 158.6L144.0 158.9L144.2 157.7L144.4 158.3L144.6 158.1L144.8 159.3L145.0 158.0L145.2 157.6L145.4 157.0L145.6 157.0L145.8 157.8L146.0 157.6L146.2 158.7L146.4 157.2L146.6 158.6L146.8 158.0L147.0 157.8L147.2 156.2L147.4 156.9L147.6 158.7L147.8 159.4L148.0 158.6L148.2 159.2L148.4 158.4L148.6 158.6L148.8 158.5L149.0 160.1L149.2 159.7L149.4 159.4L149.6 159.5L149.8 160.4L150.0 160.3L150.2 159.4L150.4 161.7L150.6 160.6L150.8 160.4L151.0 161.8L151.2 161.5L151.4 160.6L151.6 161.2L151.8 159.9L152.0 160.4L152.2 159.1L152.4 162.1L152.6 159.5L152.8 161.8L153.0 160.6L153.2 160.5L153.4 161.2L153.6 161.7L153.8 162.0L154.0 163.1L154.2 162.0L154.4 162.5L154.6 161.3L154.8 162.4L155.0 162.0L155.2 161.6L155.4 161.9L155.6 162.0L155.8 162.3L156.0 162.5L156.2 161.8L156.4 161.7L156.6 163.0L156.8 161.0L157.0 161.9L157.2 163.8L157.4 160.3L157.6 162.0L157.8 163.2L158.0 161.3L158.2 164.9L158.4 160.6L158.6 164.0L158.8 164.2L159.0 163.7L159.2 162.7L159.4 163.3L159.6 162.2L159.8 163.7L160.0 162.1L160.2 162.8L160.4 164.0L160.6 162.2L160.8 162.9L161.0 163.3L161.2 162.1L161.4 164.3L161.6 163.6L161.8 162.0L162.0 163.3L162.2 162.7L162.4 162.8L162.6 163.5L162.8 162.8L163.0 164.3L163.2 162.9L163.4 164.3L163.6 163.5L163.8 164.3L164.0 163.1L164.2 163.1L164.4 162.6L164.6 164.1L164.8 164.4L165.0 165.4L165.2 164.7L165.4 163.8L165.6 163.4L165.8 163.9L166.0 163.6L166.2 164.8L166.4 164.3L166.6 162.8L166.8 162.9L167.0 164.6L167.2 163.7L167.4 163.2L167.6 164.4L167.8 163.0L168.0 163.1L168.2 162.9L168.4 161.6L168.6 163.9L168.8 162.1L169.0 162.6L169.2 162.4L169.4 163.6L169.6 162.9L169.8 162.9L170.0 161.4L170.2 162.7L170.4 161.5L170.6 162.9L170.8 162.9L171.0 162.5L171.2 164.2L171.4 162.9L171.6 162.9L171.8 162.4L172.0 162.1L172.2 163.0L172.4 163.0L172.6 160.9L172.8 162.8L173.0 162.3L173.2 162.6L173.4 162.0L173.6 160.5L173.8 160.4L174.0 162.9L174.2 161.4L174.4 159.9L174.6 161.3L174.8 160.5L175.0 159.1L175.2 158.6L175.4 159.1L175.6 160.6L175.8 160.1L176.0 159.8L176.2 160.2L176.4 160.3L176.6 157.9L176.8 159.2L177.0 158.7L177.2 158.2L177.4 158.6L177.6 158.8L177.8 158.6L178.0 157.4L178.2 158.1L178.4 160.1L178.6 157.4L178.8 156.7L179.0 158.3L179.2 158.4L179.4 158.2L179.6 156.7L179.8 158.4L180.0 156.7L180.2 156.3L180.4 156.6L180.6 156.9L180.8 157.5L181.0 157.3L181.2 156.6L181.4 157.2L181.6 156.3L181.8 156.9L182.0 154.7L182.2 154.4L182.4 156.2L182.6 154.1L182.8 154.8L183.0 154.7L183.2 154.0L183.4 153.7L183.6 154.8L183.8 151.1L184.0 153.5L184.2 154.2L184.4 151.8L184.6 151.3L184.8 151.5L185.0 152.0L185.2 149.1L185.4 149.8L185.6 149.2L185.8 149.4L186.0 148.7L186.2 148.8L186.4 147.5L186.6 147.5L186.8 146.6L187.0 146.3L187.2 146.6L187.4 146.4L187.6 145.5L187.8 147.8L188.0 146.4L188.2 145.4L188.4 147.5L188.6 146.0L188.8 147.1L189.0 146.7L189.2 147.0L189.4 147.0L189.6 146.5L189.8 147.1L190.0 148.8L190.2 145.3L190.4 147.3L190.6 147.7L190.8 146.6L191.0 146.4L191.2 149.5L191.4 147.5L191.6 149.8L191.8 148.7L192.0 148.5L192.2 149.1L192.4 149.4L192.6 150.1L192.8 149.7L193.0 149.7L193.2 149.9L193.4 151.1L193.6 150.8L193.8 149.4L194.0 149.7L194.2 150.6L194.4 149.8L194.6 149.9L194.8 149.3L195.0 149.8L195.2 150.3L195.4 150.6L195.6 149.6L195.8 151.2L196.0 149.2L196.2 151.8L196.4 149.8L196.6 149.2L196.8 148.2L197.0 146.1L197.2 148.2L197.4 148.4L197.6 149.8L197.8 146.9L198.0 149.7L198.2 147.9L198.4 148.9L198.6 146.3L198.8 148.8L199.0 148.7L199.2 149.9L199.4 149.8L199.6 149.2L199.8 151.3L200.0 151.6L200.2 151.9L200.4 152.8L200.6 153.5L200.8 153.3L201.0 153.0L201.2 153.8L201.4 157.0L201.6 157.3L201.8 157.6L202.0 157.8L202.2 158.8L202.4 159.2L202.6 159.3L202.8 159.4L203.0 162.2L203.2 160.9L203.4 160.6L203.6 160.3L203.8 161.1L204.0 162.6L204.2 163.0L204.4 162.4L204.6 162.9L204.8 162.8L205.0 162.4L205.2 164.7L205.4 164.1L205.6 166.1L205.8 163.6L206.0 164.4L206.2 165.4L206.4 164.7L206.6 163.9L206.8 164.5L207.0 165.6L207.2 166.0L207.4 165.8L207.6 166.9L207.8 167.1L208.0 166.7L208.2 166.6L208.4 166.5L208.6 167.3L208.8 167.8L209.0 167.2L209.2 167.7L209.4 167.1L209.6 166.3L209.8 166.8L210.0 168.4L210.2 168.2L210.4 169.3L210.6 168.1L210.8 168.9L211.0 169.4L211.2 169.2L211.4 168.0L211.6 168.4L211.8 168.8L212.0 167.9L212.2 169.3L212.4 169.8L212.6 168.6L212.8 170.8L213.0 168.9L213.2 169.1L213.4 169.2L213.6 168.8L213.8 169.9L214.0 169.6L214.2 171.1L214.4 170.2L214.6 170.3L214.8 169.7L215.0 168.7L215.2 169.9L215.4 169.3L215.6 170.9L215.8 170.1L216.0 171.6L216.2 170.9L216.4 171.1L216.6 170.6L216.8 170.6L217.0 171.1L217.2 171.4L217.4 170.0L217.6 171.1L217.8 173.0L218.0 170.7L218.2 170.7L218.4 170.3L218.6 169.8L218.8 172.0L219.0 171.1L219.2 171.4L219.4 172.8L219.6 173.4L219.8 170.5L220.0 172.2L220.2 171.9L220.4 171.8L220.6 171.9L220.8 171.5L221.0 172.9L221.2 172.1L221.4 171.9L221.6 172.7L221.8 172.4L222.0 172.1L222.2 172.0L222.4 173.2L222.6 172.2L222.8 171.7L223.0 171.1L223.2 171.5L223.4 170.9L223.6 171.9L223.8 172.0L224.0 170.1L224.2 171.8L224.4 172.3L224.6 171.9L224.8 170.9L225.0 172.8L225.2 171.1L225.4 170.7L225.6 170.8L225.8 171.7L226.0 172.5L226.2 172.6L226.4 171.8L226.6 170.5L226.8 171.0L227.0 170.7L227.2 171.3L227.4 169.9L227.6 171.5L227.8 171.9L228.0 171.2L228.2 171.7L228.4 170.5L228.6 170.0L228.8 170.6L229.0 172.1L229.2 172.0L229.4 170.7L229.6 172.1L229.8 170.7L230.0 172.2L230.2 171.3L230.4 170.5L230.6 171.5L230.8 170.1L231.0 169.9L231.2 169.5L231.4 170.9L231.6 170.6L231.8 170.5L232.0 170.1L232.2 171.6L232.4 170.0L232.6 169.6L232.8 171.2L233.0 171.3L233.2 170.3L233.4 168.4L233.6 169.3L233.8 170.3L234.0 169.7L234.2 170.9L234.4 168.3L234.6 169.9L234.8 168.7L235.0 170.3L235.2 169.0L235.4 169.9L235.6 168.4L235.8 167.7L236.0 167.9L236.2 168.2L236.4 167.8L236.6 169.7L236.8 169.7L237.0 168.8L237.2 167.7L237.4 168.4L237.6 167.9L237.8 169.7L238.0 168.8L238.2 168.9L238.4 168.2L238.6 166.8L238.8 167.9L239.0 167.6L239.2 168.9L239.4 168.7L239.6 168.0L239.8 168.4L240.0 170.1L240.2 168.0L240.4 168.1L240.6 168.7L240.8 168.4L241.0 168.6L241.2 169.5L241.4 170.6L241.6 167.6L241.8 169.2L242.0 169.3L242.2 169.3L242.4 169.2L242.6 169.1L242.8 170.3L243.0 169.2L243.2 169.5L243.4 169.7L243.6 169.8L243.8 169.6L244.0 170.7L244.2 170.0L244.4 170.2L244.6 170.1L244.8 169.4L245.0 169.6L245.2 169.6L245.4 170.7L245.6 170.1L245.8 169.9L246.0 171.1L246.2 171.5L246.4 169.7L246.6 172.7L246.8 171.4L247.0 171.4L247.2 172.5L247.4 171.8L247.6 171.3L247.8 173.8L248.0 171.1L248.2 172.1L248.4 173.0L248.6 171.4L248.8 172.4L249.0 172.8L249.2 174.6L249.4 171.9L249.6 172.7L249.8 173.3L250.0 172.9L250.2 171.8L250.4 173.2L250.6 173.0L250.8 173.3L251.0 173.9L251.2 173.8L251.4 173.2L251.6 173.1L251.8 171.9L252.0 172.7L252.2 173.0L252.4 172.5L252.6 172.9L252.8 172.0L253.0 174.0L253.2 174.5L253.4 172.3L253.6 173.0L253.8 172.4L254.0 173.6L254.2 172.9L254.4 172.5L254.6 172.2L254.8 172.5L255.0 171.5L255.2 172.9L255.4 171.6L255.6 172.7L255.8 172.3L256.0 173.0L256.2 172.0L256.4 172.9L256.6 171.2L256.8 172.4L257.0 171.7L257.2 172.0L257.4 171.8L257.6 172.5L257.8 170.0L258.0 171.9L258.2 170.3L258.4 172.6L258.6 169.8L258.8 170.6L259.0 170.0L259.2 172.7L259.4 170.2L259.6 171.3L259.8 170.7L260.0 169.6L260.2 170.8L260.4 171.6L260.6 170.8L260.8 171.7L261.0 170.5L261.2 170.8L261.4 170.4L261.6 170.9L261.8 172.2L262.0 170.8L262.2 170.6L262.4 169.8L262.6 169.6L262.8 171.4L263.0 169.1L263.2 169.2L263.4 169.8L263.6 169.4L263.8 171.4L264.0 167.6L264.2 169.8L264.4 170.0L264.6 168.4L264.8 168.7L265.0 169.5L265.2 170.4L265.4 168.1L265.6 167.4L265.8 169.4L266.0 169.8L266.2 168.0L266.4 166.3L266.6 169.2L266.8 167.6L267.0 168.6L267.2 167.4L267.4 166.9L267.6 166.6L267.8 168.0L268.0 167.8L268.2 164.5L268.4 165.3L268.6 167.3L268.8 165.2L269.0 164.0L269.2 164.9L269.4 164.5L269.6 164.1L269.8 163.5L270.0 163.2L270.2 162.7L270.4 163.0L270.6 161.5L270.8 161.4L271.0 160.8L271.2 161.2L271.4 159.5L271.6 158.1L271.8 157.6L272.0 156.3L272.2 155.7L272.4 154.0L272.6 153.9L272.8 152.2L273.0 149.8L273.2 148.3L273.4 148.1L273.6 146.5L273.8 144.6L274.0 141.9L274.2 140.1L274.4 140.4L274.6 139.2L274.8 137.6L275.0 134.2L275.2 134.6L275.4 131.6L275.6 130.9L275.8 129.4L276.0 126.7L276.2 125.0L276.4 121.8L276.6 120.9L276.8 118.2L277.0 118.3L277.2 116.5L277.4 116.0L277.6 114.8L277.8 113.7L278.0 114.6L278.2 114.3L278.4 115.6L278.6 115.9L278.8 115.5L279.0 117.2L279.2 118.1L279.4 118.8L279.6 120.8L279.8 122.5L280.0 121.7L280.2 122.9L280.4 122.7L280.6 126.1L280.8 127.5L281.0 127.8L281.2 131.7L281.4 133.7L281.6 134.3L281.8 136.2L282.0 137.3L282.2 140.4L282.4 140.2L282.6 142.9L282.8 146.5L283.0 146.4L283.2 148.2L283.4 148.9L283.6 149.0L283.8 150.8L284.0 152.0L284.2 151.6L284.4 153.4L284.6 154.9L284.8 155.4L285.0 153.7L285.2 154.8L285.4 154.8L285.6 157.6L285.8 157.7L286.0 158.3L286.2 157.3L286.4 157.5L286.6 159.0L286.8 159.4L287.0 159.0L287.2 160.2L287.4 161.0L287.6 161.0L287.8 160.3L288.0 159.8L288.2 161.7L288.4 162.4L288.6 162.4L288.8 162.6L289.0 162.6L289.2 164.1L289.4 163.6L289.6 164.0L289.8 163.2L290.0 163.6L290.2 164.4L290.4 163.4L290.6 163.2L290.8 164.0L291.0 165.2L291.2 164.2L291.4 165.1L291.6 163.5L291.8 163.2L292.0 162.0L292.2 162.4L292.4 163.9L292.6 162.7L292.8 162.8L293.0 162.5L293.2 161.7L293.4 161.3L293.6 161.3L293.8 161.5L294.0 161.0L294.2 160.7L294.4 160.1L294.6 159.0L294.8 159.1L295.0 158.2L295.2 159.5L295.4 156.5L295.6 157.7L295.8 159.6L296.0 157.0L296.2 156.0L296.4 156.6L296.6 157.5L296.8 156.0L297.0 156.4L297.2 155.8L297.4 155.2L297.6 158.1L297.8 155.4L298.0 154.8L298.2 154.9L298.4 155.7L298.6 156.0L298.8 156.6L299.0 156.4L299.2 155.5L299.4 157.7L299.6 157.5L299.8 158.0L300.0 157.5L300.2 158.8L300.4 159.2L300.6 160.3L300.8 159.6L301.0 161.3L301.2 161.8L301.4 161.2L301.6 162.1L301.8 162.4L302.0 164.4L302.2 161.9L302.4 164.3L302.6 163.6L302.8 165.1L303.0 166.6L303.2 165.7L303.4 166.7L303.6 166.2L303.8 168.9L304.0 168.3L304.2 168.8L304.4 167.0L304.6 167.5L304.8 169.6L305.0 168.8L305.2 169.0L305.4 169.8L305.6 168.7L305.8 170.6L306.0 170.2L306.2 170.8L306.4 170.0L306.6 171.2L306.8 170.4L307.0 172.0L307.2 172.3L307.4 172.3L307.6 172.2L307.8 172.4L308.0 169.7L308.2 172.9L308.4 172.1L308.6 172.6L308.8 172.4L309.0 171.6L309.2 172.5L309.4 173.7L309.6 174.4L309.8 172.8L310.0 172.7L310.2 174.8L310.4 173.0L310.6 175.6L310.8 174.0L311.0 173.3L311.2 175.0L311.4 175.7L311.6 173.1L311.8 175.8L312.0 174.3L312.2 175.9L312.4 174.4L312.6 173.5L312.8 175.3L313.0 175.8L313.2 176.9L313.4 176.6L313.6 175.8L313.8 175.1L314.0 175.0L314.2 175.2L314.4 174.9L314.6 175.4L314.8 173.5L315.0 175.9L315.2 175.8L315.4 178.1L315.6 176.6L315.8 175.6L316.0 176.6L316.2 175.1L316.4 175.7L316.6 174.7L316.8 177.5L317.0 176.9L317.2 175.4L317.4 176.4L317.6 177.3L317.8 177.0L318.0 176.9L318.2 175.9L318.4 176.2L318.6 176.8L318.8 177.6L319.0 176.1L319.2 175.9L319.4 177.9L319.6 176.2L319.8 177.9L320.0 177.2L320.2 177.8L320.4 178.6L320.6 177.7L320.8 177.8L321.0 176.4L321.2 176.6L321.4 177.8L321.6 178.6L321.8 178.5L322.0 179.3L322.2 177.6L322.4 177.5L322.6 178.2L322.8 177.4L323.0 177.4L323.2 176.5L323.4 178.3L323.6 176.6L323.8 177.9L324.0 176.3L324.2 178.4L324.4 176.6L324.6 178.3L324.8 176.2L325.0 177.2L325.2 178.6L325.4 176.9L325.6 177.7L325.8 177.2L326.0 175.7L326.2 177.9L326.4 178.0L326.6 176.7L326.8 178.2L327.0 177.0L327.2 176.9L327.4 177.7L327.6 177.2L327.8 179.7L328.0 176.4L328.2 178.4L328.4 178.6L328.6 176.1L328.8 176.4L329.0 178.3L329.2 177.5L329.4 178.2L329.6 178.9L329.8 177.6L330.0 177.1L330.2 175.7L330.4 178.2L330.6 177.3L330.8 178.4L331.0 178.3L331.2 177.0L331.4 179.6L331.6 179.1L331.8 178.9L332.0 177.2L332.2 177.9L332.4 177.8L332.6 178.0L332.8 177.4L333.0 178.8L333.2 178.6L333.4 178.7L333.6 178.0L333.8 179.6L334.0 178.7L334.2 176.2L334.4 178.0L334.6 178.5L334.8 179.4L335.0 178.3L335.2 178.4L335.4 178.0L335.6 179.2L335.8 178.2L336.0 178.1L336.2 178.0L336.4 179.1L336.6 178.1L336.8 177.1L337.0 179.0L337.2 177.9L337.4 178.7L337.6 178.7L337.8 179.3L338.0 179.1L338.2 177.7L338.4 178.0L338.6 176.9L338.8 179.4L339.0 178.2L339.2 178.9L339.4 177.4L339.6 175.8L339.8 178.8L340.0 177.5L340.2 177.4L340.4 177.2L340.6 177.6L340.8 177.4L341.0 175.5L341.2 177.7L341.4 176.3L341.6 176.2L341.8 178.0L342.0 177.2L342.2 176.0L342.4 174.6L342.6 176.1L342.8 176.3L343.0 175.7L343.2 174.5L343.4 174.7L343.6 174.2L343.8 175.3L344.0 175.6L344.2 175.7L344.4 174.0L344.6 174.6L344.8 174.7L345.0 173.7L345.2 173.8L345.4 175.6L345.6 173.8L345.8 174.2L346.0 172.8L346.2 173.0L346.4 171.3L346.6 172.5L346.8 173.3L347.0 173.7L347.2 172.7L347.4 172.0L347.6 171.2L347.8 170.3L348.0 170.5L348.2 170.9L348.4 169.4L348.6 170.7L348.8 168.9L349.0 168.1L349.2 168.6L349.4 168.0L349.6 168.2L349.8 170.4L350.0 169.3L350.2 169.7L350.4 170.7L350.6 170.9L350.8 169.5L351.0 171.3L351.2 170.7L351.4 170.6L351.6 171.2L351.8 169.8L352.0 170.6L352.2 171.4L352.4 172.3L352.6 171.7L352.8 172.1L353.0 173.3L353.2 173.9L353.4 173.6L353.6 174.2L353.8 173.0L354.0 173.2L354.2 174.0L354.4 173.7L354.6 173.7L354.8 175.7L355.0 174.4L355.2 173.9L355.4 175.4L355.6 176.7L355.8 175.4L356.0 176.6L356.2 175.4L356.4 175.5L356.6 175.5L356.8 176.2L357.0 178.0L357.2 175.6L357.4 178.2L357.6 176.1L357.8 176.9L358.0 178.0L358.2 178.0L358.4 177.8L358.6 176.3L358.8 178.2L359.0 177.2L359.2 180.3L359.4 178.1L359.6 178.6L359.8 177.5L360.0 178.2L360.2 177.6L360.4 179.6L360.6 178.7L360.8 179.4L361.0 178.5L361.2 178.7L361.4 180.3L361.6 178.5L361.8 177.9L362.0 179.8L362.2 178.6L362.4 179.3L362.6 180.5L362.8 179.1L363.0 180.6L363.2 179.4L363.4 181.3L363.6 181.2L363.8 179.8L364.0 180.1L364.2 179.6L364.4 180.6L364.6 181.4L364.8 179.3L365.0 181.4L365.2 179.5L365.4 180.0L365.6 179.3L365.8 182.6L366.0 181.0L366.2 181.2L366.4 180.5L366.6 182.0L366.8 179.4L367.0 181.2L367.2 183.2L367.4 181.0L367.6 181.4L367.8 182.0L368.0 180.8L368.2 181.6L368.4 182.4L368.6 181.8L368.8 182.0L369.0 181.5L369.2 182.1L369.4 181.9L369.6 183.1L369.8 182.6L370.0 181.8L370.2 180.0L370.4 182.7L370.6 182.8L370.8 181.4L371.0 180.5L371.2 181.3L371.4 183.1L371.6 181.5L371.8 182.0L372.0 182.6L372.2 183.5L372.4 182.5L372.6 182.5L372.8 182.1L373.0 184.0L373.2 183.6L373.4 182.6L373.6 181.6L373.8 182.1L374.0 183.3L374.2 182.3L374.4 183.7L374.6 183.3L374.8 183.2L375.0 183.6L375.2 183.5L375.4 182.4L375.6 182.9L375.8 185.2L376.0 182.2L376.2 182.9L376.4 184.2L376.6 183.2L376.8 182.7L377.0 182.3L377.2 183.9L377.4 184.4L377.6 184.7L377.8 183.6L378.0 184.5L378.2 182.8L378.4 183.8L378.6 183.1L378.8 183.9L379.0 184.4L379.2 184.7L379.4 183.0L379.6 184.9L379.8 183.5L380.0 183.1L380.2 183.8L380.4 182.8L380.6 184.0L380.8 184.3L381.0 183.9L381.2 184.6L381.4 183.9L381.6 184.2L381.8 183.0L382.0 184.2L382.2 183.5L382.4 183.9L382.6 184.2L382.8 184.5L383.0 182.9L383.2 183.0L383.4 184.1L383.6 184.8L383.8 184.7L384.0 185.2L384.2 185.5L384.4 184.9L384.6 184.4L384.8 183.6L385.0 183.7L385.2 184.1L385.4 184.7L385.6 184.7L385.8 184.5L386.0 184.4L386.2 185.0L386.4 184.7L386.6 184.8L386.8 184.8L387.0 184.0L387.2 183.6L387.4 184.9L387.6 184.9L387.8 184.3L388.0 184.1L388.2 186.4L388.4 183.9L388.6 184.3L388.8 184.7L389.0 183.5L389.2 184.6L389.4 186.0L389.6 185.3L389.8 185.0L390.0 185.0L390.2 184.6L390.4 185.3L390.6 184.4L390.8 184.1L391.0 184.6L391.2 185.3L391.4 184.8L391.6 185.1L391.8 182.8L392.0 185.5L392.2 186.5L392.4 185.6L392.6 184.2L392.8 183.8L393.0 184.7L393.2 183.7L393.4 185.1L393.6 184.1L393.8 185.3L394.0 185.7L394.2 182.8L394.4 184.7L394.6 183.9L394.8 183.3L395.0 184.0L395.2 184.3L395.4 185.4L395.6 183.2L395.8 185.4L396.0 186.2L396.2 185.0L396.4 185.0L396.6 184.5L396.8 183.5L397.0 185.0L397.2 184.8L397.4 185.1L397.6 186.7L397.8 185.1L398.0 184.9L398.2 185.8L398.4 183.4L398.6 183.5L398.8 184.2L399.0 183.9L399.2 185.1L399.4 184.2L399.6 186.0L399.8 185.8L400.0 185.1L400.2 184.1L400.4 185.0L400.6 185.1L400.8 183.5L401.0 184.6L401.2 184.9L401.4 184.5L401.6 185.6L401.8 185.2L402.0 183.4L402.2 184.2L402.4 183.3L402.6 184.4L402.8 183.1L403.0 184.6L403.2 184.1L403.4 184.5L403.6 183.5L403.8 182.3L404.0 184.9L404.2 183.2L404.4 184.4L404.6 183.6L404.8 183.7L405.0 184.6L405.2 183.2L405.4 184.1L405.6 181.5L405.8 183.5L406.0 182.4L406.2 182.4L406.4 182.5L406.6 182.7L406.8 183.7L407.0 180.7L407.2 182.2L407.4 181.5L407.6 183.1L407.8 181.7L408.0 182.3L408.2 181.6L408.4 182.4L408.6 182.7L408.8 181.4L409.0 181.8L409.2 180.5L409.4 181.9L409.6 182.4L409.8 181.2L410.0 182.6L410.2 179.8L410.4 180.0L410.6 180.4L410.8 181.2L411.0 181.6L411.2 181.6L411.4 181.6L411.6 182.3L411.8 181.3L412.0 180.6L412.2 180.7L412.4 183.6L412.6 179.8L412.8 181.7L413.0 183.1L413.2 182.3L413.4 181.3L413.6 182.0L413.8 182.8L414.0 183.1L414.2 181.4L414.4 182.8L414.6 182.4L414.8 183.2L415.0 183.5L415.2 182.1L415.4 181.2L415.6 182.8L415.8 184.0L416.0 183.1L416.2 182.8L416.4 184.7L416.6 181.8L416.8 183.5L417.0 182.2L417.2 182.8L417.4 182.9L417.6 184.1L417.8 182.1L418.0 182.4L418.2 181.6L418.4 183.4L418.6 182.6L418.8 183.4L419.0 182.1L419.2 182.8L419.4 184.0L419.6 183.0L419.8 183.7L420.0 183.7L420.2 183.0L420.4 182.0L420.6 184.2L420.8 183.5L421.0 184.2L421.2 181.7L421.4 182.1L421.6 181.7L421.8 182.8L422.0 184.5L422.2 184.1L422.4 183.6L422.6 183.8L422.8 184.4L423.0 183.5L423.2 184.1L423.4 183.9L423.6 182.0L423.8 183.6L424.0 185.1L424.2 183.6L424.4 183.9L424.6 183.5L424.8 183.6L425.0 185.0L425.2 183.9L425.4 183.3L425.6 181.5L425.8 183.7L426.0 182.6L426.2 182.7L426.4 185.0L426.6 185.0L426.8 182.8L427.0 185.1L427.2 184.8L427.4 183.8L427.6 185.1L427.8 183.2L428.0 183.6L428.2 183.4L428.4 183.7L428.6 185.4L428.8 183.6L429.0 183.8L429.2 184.0L429.4 185.0L429.6 184.5L429.8 185.6L430.0 184.3L430.2 183.8L430.4 184.5L430.6 185.0L430.8 184.2L431.0 185.3L431.2 186.6L431.4 184.6L431.6 185.2L431.8 186.3L432.0 184.7L432.2 184.6L432.4 184.4L432.6 185.7L432.8 185.8L433.0 185.3L433.2 185.5L433.4 186.6L433.6 186.3L433.8 184.4L434.0 185.6L434.2 185.7L434.4 186.3L434.6 185.5L434.8 185.2L435.0 185.4L435.2 184.3L435.4 185.8L435.6 185.4L435.8 186.3L436.0 185.1L436.2 185.6L436.4 185.2L436.6 185.2L436.8 186.7L437.0 185.7L437.2 186.5L437.4 185.2L437.6 186.3L437.8 184.8L438.0 185.9L438.2 185.9L438.4 186.8L438.6 186.5L438.8 186.2L439.0 187.1L439.2 186.6L439.4 186.9L439.6 187.1L439.8 186.4L440.0 186.2L440.2 186.8L440.4 186.2L440.6 186.9L440.8 187.5L441.0 187.3L441.2 186.2L441.4 185.5L441.6 186.5L441.8 186.5L442.0 187.5L442.2 186.2L442.4 186.4L442.6 187.2L442.8 186.2L443.0 186.4L443.2 188.0L443.4 187.8L443.6 187.1L443.8 186.8L444.0 185.7L444.2 187.0L444.4 186.6L444.6 186.7L444.8 186.1L445.0 186.5L445.2 186.4L445.4 186.8L445.6 187.7L445.8 186.8L446.0 185.1L446.2 185.7L446.4 185.2L446.6 185.8L446.8 187.0L447.0 186.8L447.2 186.0L447.4 186.7L447.6 185.8L447.8 185.3L448.0 185.3L448.2 185.7L448.4 187.7L448.6 185.3L448.8 187.5L449.0 187.6L449.2 186.3L449.4 186.4L449.6 185.9L449.8 186.4L450.0 187.0L450.2 186.4L450.4 187.3L450.6 187.4L450.8 186.7L451.0 186.7L451.2 186.3L451.4 186.7L451.6 185.4L451.8 186.7L452.0 186.5L452.2 185.6L452.4 188.2L452.6 185.5L452.8 185.6L453.0 186.6L453.2 184.7L453.4 185.7L453.6 185.0L453.8 185.5L454.0 186.2L454.2 186.6L454.4 187.2L454.6 187.0L454.8 187.3L455.0 186.8L455.2 185.9L455.4 187.2L455.6 185.9L455.8 185.8L456.0 187.6L456.2 186.9L456.4 186.4L456.6 186.9L456.8 187.0L457.0 185.1L457.2 186.2L457.4 185.2L457.6 186.3L457.8 185.7L458.0 187.4L458.2 186.7L458.4 185.5L458.6 186.2L458.8 185.2L459.0 186.2L459.2 186.7L459.4 186.4L459.6 184.5L459.8 185.9L460.0 186.6L460.2 186.4L460.4 187.2L460.6 185.1L460.8 186.6L461.0 185.6L461.2 186.3L461.4 186.5L461.6 186.7L461.8 185.7L462.0 186.3L462.2 185.2L462.4 185.0L462.6 186.6L462.8 186.1L463.0 184.8L463.2 185.4L463.4 186.2L463.6 187.5L463.8 187.0L464.0 186.8L464.2 184.6L464.4 186.1L464.6 186.6L464.8 186.5L465.0 186.5L465.2 186.0L465.4 187.7L465.6 187.4L465.8 186.1L466.0 185.3L466.2 187.9L466.4 185.7L466.6 187.2L466.8 187.8L467.0 185.4L467.2 186.5L467.4 185.9L467.6 186.7L467.8 186.5L468.0 187.9L468.2 186.7L468.4 186.2L468.6 187.2L468.8 186.0L469.0 186.0L469.2 188.2L469.4 185.6L469.6 185.9L469.8 186.3L470.0 185.4L470.2 184.5L470.4 187.2L470.6 185.7L470.8 185.9L471.0 186.1L471.2 185.5L471.4 185.5L471.6 186.5L471.8 188.5L472.0 187.1L472.2 187.1L472.4 185.2L472.6 186.4L472.8 185.5L473.0 187.1L473.2 186.3L473.4 186.5L473.6 186.5L473.8 186.0L474.0 185.3L474.2 187.1L474.4 185.4L474.6 185.6L474.8 186.4L475.0 186.0L475.2 186.9L475.4 187.5L475.6 186.9L475.8 186.8L476.0 186.7L476.2 187.4L476.4 185.1L476.6 187.0L476.8 186.0L477.0 185.7L477.2 186.8L477.4 186.5L477.6 187.3L477.8 187.8L478.0 184.9L478.2 186.8L478.4 188.5L478.6 187.6L478.8 188.1L479.0 187.0L479.2 185.7L479.4 186.0L479.6 187.6L479.8 187.8L480.0 186.4L480.2 186.8L480.4 187.2L480.6 185.5L480.8 186.7L481.0 188.4L481.2 188.9L481.4 187.0L481.6 188.7L481.8 186.7L482.0 186.4L482.2 185.2L482.4 188.0L482.6 186.8L482.8 189.2L483.0 187.5L483.2 187.4L483.4 185.7L483.6 188.5L483.8 186.9L484.0 187.1L484.2 185.4L484.4 188.1L484.6 188.1L484.8 186.8L485.0 187.4L485.2 187.7L485.4 188.2L485.6 187.5L485.8 188.8L486.0 187.2L486.2 186.9L486.4 187.0L486.6 185.3L486.8 186.7L487.0 188.3L487.2 187.7L487.4 186.8L487.6 187.8L487.8 185.8L488.0 187.3L488.2 187.9L488.4 188.1L488.6 186.9L488.8 188.3L489.0 189.1L489.2 187.2L489.4 188.2L489.6 186.2L489.8 185.9L490.0 188.1L490.2 187.6L490.4 187.8L490.6 187.1L490.8 187.4L491.0 188.3L491.2 189.1L491.4 187.4L491.6 186.2L491.8 188.7L492.0 188.1L492.2 188.2L492.4 187.8L492.6 189.6L492.8 187.7L493.0 188.1L493.2 186.1L493.4 187.2L493.6 187.1L493.8 187.6L494.0 188.0L494.2 187.0L494.4 189.1L494.6 186.7L494.8 187.3L495.0 187.9L495.2 186.6L495.4 188.1L495.6 188.2L495.8 187.4L496.0 189.3L496.2 187.7L496.4 187.9L496.6 186.8L496.8 186.2L497.0 187.1L497.2 187.3L497.4 187.2L497.6 188.3L497.8 185.6L498.0 186.6L498.2 186.0L498.4 188.7L498.6 187.1L498.8 187.1L499.0 186.6L499.2 188.3L499.4 187.2L499.6 187.7L499.8 185.8L500.0 188.5L500.2 187.8L500.4 188.0L500.6 188.5L500.8 187.3L501.0 187.3L501.2 188.1L501.4 187.8L501.6 187.2L501.8 187.4L502.0 187.0L502.2 188.0L502.4 188.2L502.6 187.4L502.8 188.9L503.0 186.0L503.2 187.1L503.4 188.8L503.6 186.9L503.8 185.9L504.0 188.5L504.2 187.7L504.4 186.2L504.6 187.9L504.8 186.3L505.0 186.0L505.2 187.0L505.4 186.8L505.6 186.2L505.8 186.8L506.0 186.3L506.2 187.2L506.4 187.1L506.6 187.7L506.8 186.7L507.0 185.9L507.2 185.9L507.4 186.8L507.6 188.3L507.8 187.7L508.0 186.4L508.2 187.7L508.4 185.9L508.6 187.8L508.8 186.6L509.0 187.5L509.2 187.4L509.4 186.6L509.6 187.1L509.8 185.9L510.0 186.7L510.2 187.7L510.4 190.3L510.6 187.3L510.8 186.8L511.0 185.8L511.2 187.6L511.4 185.3L511.6 186.0L511.8 186.9L512.0 185.6L512.2 187.9L512.4 187.5L512.6 186.1L512.8 186.1L513.0 185.4L513.2 185.3L513.4 186.9L513.6 187.0L513.8 186.8L514.0 186.7L514.2 186.0L514.4 186.7L514.6 185.2L514.8 186.4L515.0 187.6L515.2 187.5L515.4 186.0L515.6 186.1L515.8 187.5L516.0 187.8L516.2 185.0L516.4 185.9L516.6 186.5L516.8 187.3L517.0 185.5L517.2 186.8L517.4 186.0L517.6 188.2L517.8 186.6L518.0 186.1L518.2 185.9L518.4 187.0L518.6 186.7L518.8 185.2L519.0 186.3L519.2 185.0L519.4 185.4L519.6 185.0L519.8 184.9L520.0 185.5L520.2 185.2L520.4 186.5L520.6 186.7L520.8 185.8L521.0 185.0L521.2 186.7L521.4 184.2L521.6 184.3L521.8 186.6L522.0 186.5L522.2 186.7L522.4 185.7L522.6 184.8L522.8 185.4L523.0 186.3L523.2 185.2L523.4 185.2L523.6 184.6L523.8 184.8L524.0 186.5L524.2 186.2L524.4 184.8L524.6 184.8L524.8 185.3L525.0 186.2L525.2 184.7L525.4 185.6L525.6 183.9L525.8 184.6L526.0 186.0L526.2 186.4L526.4 184.6L526.6 185.0L526.8 186.3L527.0 185.3L527.2 185.1L527.4 186.0L527.6 185.7L527.8 186.5L528.0 186.2L528.2 185.0L528.4 185.4L528.6 185.4L528.8 184.3L529.0 184.6L529.2 186.3L529.4 184.1L529.6 186.3L529.8 185.7L530.0 185.3L530.2 185.8L530.4 185.8L530.6 186.4L530.8 185.0L531.0 185.1L531.2 185.1L531.4 186.9L531.6 186.1L531.8 184.5L532.0 185.0L532.2 184.7L532.4 185.3L532.6 185.4L532.8 187.2L533.0 183.7L533.2 186.1L533.4 185.6L533.6 184.6L533.8 185.0L534.0 184.7L534.2 185.2L534.4 186.0L534.6 183.8L534.8 186.2L535.0 184.8L535.2 186.3" stroke="#ffc000" stroke-width="1.2"/>
<path d="M57.2 270.7L57.4 271.2L57.6 270.6L57.8 270.9L58.0 270.0L58.2 269.3L58.4 270.4L58.6 270.3L58.8 271.3L59.0 268.1L59.2 269.4L59.4 270.3L59.6 268.6L59.8 269.3L60.0 271.0L60.2 270.4L60.4 268.7L60.6 270.4L60.8 270.2L61.0 269.8L61.2 269.5L61.4 269.4L61.6 268.5L61.8 268.8L62.0 269.7L62.2 269.2L62.4 270.5L62.6 268.9L62.8 267.3L63.0 268.8L63.2 269.3L63.4 269.4L63.6 269.1L63.8 268.5L64.0 270.2L64.2 268.6L64.4 269.7L64.6 269.0L64.8 268.4L65.0 270.4L65.2 267.5L65.4 268.9L65.6 269.9L65.8 269.4L66.0 270.4L66.2 269.9L66.4 269.7L66.6 271.8L66.8 270.1L67.0 270.3L67.2 269.7L67.4 270.1L67.6 271.2L67.8 271.2L68.0 270.9L68.2 270.5L68.4 271.6L68.6 269.8L68.8 270.9L69.0 271.0L69.2 270.6L69.4 271.3L69.6 270.7L69.8 270.6L70.0 272.5L70.2 271.7L70.4 272.0L70.6 271.1L70.8 271.8L71.0 271.6L71.2 271.9L71.4 272.7L71.6 270.7L71.8 271.0L72.0 270.8L72.2 268.1L72.4 269.7L72.6 270.7L72.8 271.1L73.0 270.1L73.2 271.4L73.4 271.4L73.6 270.1L73.8 271.4L74.0 271.6L74.2 270.6L74.4 269.5L74.6 271.2L74.8 270.0L75.0 269.8L75.2 270.1L75.4 269.6L75.6 270.7L75.8 270.5L76.0 270.8L76.2 270.2L76.4 269.2L76.6 269.6L76.8 270.3L77.0 269.3L77.2 271.7L77.4 269.3L77.6 269.0L77.8 270.2L78.0 269.8L78.2 269.1L78.4 268.7L78.6 269.0L78.8 269.1L79.0 268.7L79.2 267.5L79.4 267.6L79.6 267.3L79.8 266.4L80.0 262.6L80.2 263.1L80.4 261.9L80.6 260.9L80.8 259.7L81.0 258.6L81.2 256.9L81.4 255.1L81.6 254.3L81.8 255.3L82.0 253.9L82.2 255.4L82.4 257.7L82.6 258.3L82.8 258.1L83.0 261.4L83.2 262.3L83.4 263.8L83.6 265.8L83.8 266.3L84.0 266.6L84.2 268.1L84.4 268.2L84.6 268.4L84.8 268.9L85.0 269.1L85.2 268.8L85.4 268.9L85.6 269.4L85.8 268.8L86.0 268.6L86.2 270.6L86.4 269.5L86.6 269.7L86.8 269.7L87.0 269.9L87.2 269.9L87.4 269.9L87.6 269.3L87.8 270.6L88.0 269.4L88.2 270.7L88.4 268.5L88.6 269.1L88.8 270.7L89.0 269.8L89.2 269.4L89.4 270.2L89.6 269.1L89.8 269.9L90.0 268.1L90.2 269.4L90.4 269.2L90.6 270.0L90.8 270.2L91.0 268.8L91.2 270.6L91.4 268.8L91.6 267.6L91.8 267.2L92.0 270.0L92.2 268.6L92.4 268.0L92.6 267.8L92.8 267.3L93.0 268.9L93.2 267.5L93.4 268.7L93.6 266.8L93.8 264.8L94.0 266.7L94.2 265.3L94.4 264.7L94.6 265.3L94.8 263.0L95.0 263.0L95.2 260.8L95.4 258.7L95.6 257.8L95.8 254.8L96.0 253.7L96.2 250.7L96.4 246.9L96.6 244.0L96.8 240.4L97.0 236.2L97.2 233.5L97.4 229.5L97.6 227.5L97.8 224.6L98.0 224.7L98.2 225.4L98.4 226.0L98.6 228.7L98.8 231.6L99.0 235.9L99.2 238.2L99.4 242.4L99.6 246.4L99.8 248.4L100.0 249.6L100.2 253.1L100.4 255.8L100.6 256.4L100.8 258.9L101.0 259.7L101.2 260.4L101.4 260.7L101.6 261.1L101.8 261.8L102.0 262.4L102.2 263.0L102.4 263.2L102.6 262.9L102.8 263.3L103.0 263.7L103.2 262.3L103.4 263.0L103.6 263.1L103.8 263.6L104.0 263.6L104.2 263.7L104.4 263.3L104.6 264.5L104.8 264.2L105.0 262.8L105.2 264.1L105.4 263.3L105.6 265.5L105.8 263.9L106.0 264.0L106.2 264.4L106.4 264.2L106.6 264.4L106.8 265.7L107.0 264.8L107.2 265.3L107.4 265.7L107.6 264.3L107.8 266.4L108.0 265.8L108.2 266.1L108.4 264.8L108.6 266.2L108.8 266.0L109.0 265.3L109.2 267.4L109.4 266.1L109.6 265.5L109.8 265.7L110.0 266.2L110.2 266.2L110.4 265.7L110.6 266.0L110.8 266.1L111.0 263.9L111.2 264.3L111.4 263.8L111.6 264.4L111.8 265.3L112.0 264.6L112.2 263.2L112.4 263.6L112.6 264.5L112.8 263.3L113.0 263.6L113.2 263.8L113.4 262.3L113.6 264.3L113.8 264.1L114.0 264.4L114.2 263.4L114.4 263.7L114.6 264.1L114.8 264.9L115.0 265.0L115.2 265.3L115.4 266.7L115.6 266.6L115.8 265.3L116.0 265.5L116.2 267.4L116.4 266.0L116.6 267.4L116.8 267.6L117.0 266.0L117.2 266.2L117.4 266.4L117.6 265.7L117.8 265.5L118.0 265.9L118.2 266.8L118.4 265.8L118.6 265.9L118.8 265.7L119.0 264.9L119.2 267.0L119.4 264.0L119.6 265.2L119.8 266.1L120.0 264.5L120.2 265.9L120.4 266.3L120.6 264.6L120.8 265.2L121.0 264.1L121.2 265.1L121.4 264.6L121.6 264.5L121.8 265.2L122.0 264.2L122.2 264.6L122.4 263.7L122.6 262.0L122.8 262.6L123.0 262.2L123.2 260.1L123.4 261.3L123.6 259.4L123.8 258.5L124.0 256.2L124.2 255.4L124.4 253.7L124.6 251.2L124.8 249.2L125.0 245.0L125.2 244.8L125.4 240.0L125.6 236.2L125.8 234.1L126.0 231.4L126.2 230.1L126.4 227.2L126.6 227.2L126.8 226.2L127.0 229.4L127.2 229.8L127.4 233.2L127.6 233.6L127.8 237.7L128.0 239.4L128.2 243.4L128.4 246.2L128.6 247.0L128.8 249.5L129.0 251.5L129.2 252.9L129.4 255.0L129.6 256.0L129.8 256.7L130.0 258.7L130.2 259.7L130.4 258.9L130.6 259.9L130.8 260.7L131.0 260.8L131.2 260.7L131.4 262.0L131.6 262.2L131.8 262.2L132.0 261.6L132.2 263.3L132.4 263.1L132.6 261.5L132.8 261.7L133.0 262.7L133.2 261.1L133.4 262.0L133.6 261.6L133.8 261.0L134.0 261.2L134.2 260.1L134.4 260.7L134.6 259.5L134.8 262.5L135.0 261.6L135.2 261.2L135.4 260.1L135.6 260.3L135.8 260.0L136.0 259.2L136.2 258.5L136.4 256.2L136.6 256.2L136.8 254.2L137.0 252.2L137.2 250.4L137.4 249.4L137.6 247.3L137.8 242.6L138.0 241.6L138.2 237.7L138.4 232.3L138.6 227.9L138.8 223.9L139.0 220.4L139.2 215.5L139.4 211.9L139.6 210.9L139.8 208.4L140.0 210.7L140.2 213.4L140.4 215.8L140.6 219.9L140.8 223.9L141.0 228.3L141.2 232.1L141.4 235.2L141.6 239.3L141.8 242.6L142.0 246.4L142.2 249.0L142.4 250.1L142.6 250.9L142.8 252.2L143.0 253.6L143.2 255.5L143.4 255.3L143.6 255.3L143.8 255.0L144.0 256.3L144.2 255.8L144.4 255.4L144.6 255.4L144.8 256.3L145.0 254.7L145.2 255.9L145.4 255.3L145.6 254.3L145.8 254.8L146.0 254.1L146.2 253.7L146.4 254.4L146.6 254.2L146.8 255.7L147.0 255.8L147.2 256.7L147.4 257.3L147.6 254.9L147.8 257.9L148.0 256.8L148.2 258.7L148.4 258.3L148.6 259.4L148.8 260.7L149.0 258.7L149.2 260.4L149.4 260.4L149.6 259.3L149.8 261.4L150.0 261.1L150.2 260.9L150.4 260.9L150.6 264.0L150.8 261.4L151.0 260.5L151.2 261.2L151.4 261.8L151.6 261.8L151.8 262.2L152.0 261.5L152.2 262.8L152.4 262.1L152.6 261.5L152.8 262.0L153.0 262.3L153.2 263.3L153.4 263.1L153.6 262.5L153.8 262.8L154.0 263.0L154.2 264.3L154.4 262.3L154.6 263.1L154.8 263.3L155.0 262.1L155.2 262.9L155.4 262.9L155.6 262.4L155.8 263.1L156.0 263.4L156.2 263.5L156.4 262.5L156.6 262.7L156.8 264.3L157.0 261.6L157.2 262.6L157.4 263.0L157.6 262.4L157.8 262.7L158.0 262.3L158.2 262.7L158.4 263.0L158.6 261.8L158.8 262.0L159.0 261.7L159.2 261.3L159.4 261.5L159.6 260.5L159.8 261.8L160.0 262.3L160.2 262.1L160.4 261.6L160.6 259.7L160.8 261.3L161.0 259.3L161.2 259.5L161.4 260.5L161.6 257.8L161.8 258.6L162.0 257.5L162.2 256.4L162.4 254.8L162.6 254.6L162.8 252.6L163.0 252.0L163.2 250.3L163.4 246.1L163.6 244.2L163.8 241.5L164.0 237.7L164.2 234.3L164.4 231.5L164.6 227.4L164.8 222.4L165.0 219.4L165.2 216.7L165.4 212.5L165.6 210.5L165.8 211.2L166.0 211.0L166.2 209.9L166.4 212.3L166.6 216.5L166.8 218.8L167.0 223.3L167.2 227.0L167.4 231.6L167.6 233.0L167.8 236.6L168.0 240.5L168.2 245.0L168.4 246.6L168.6 247.6L168.8 251.2L169.0 252.9L169.2 253.6L169.4 254.7L169.6 256.2L169.8 257.5L170.0 257.4L170.2 258.2L170.4 258.2L170.6 258.3L170.8 258.2L171.0 259.3L171.2 259.1L171.4 259.3L171.6 260.3L171.8 260.0L172.0 260.3L172.2 258.5L172.4 260.1L172.6 259.2L172.8 258.9L173.0 258.8L173.2 260.1L173.4 259.6L173.6 258.1L173.8 257.4L174.0 257.8L174.2 256.9L174.4 257.8L174.6 254.6L174.8 253.4L175.0 253.4L175.2 252.4L175.4 251.1L175.6 250.0L175.8 249.3L176.0 245.7L176.2 243.8L176.4 241.0L176.6 240.8L176.8 239.6L177.0 237.4L177.2 237.5L177.4 236.2L177.6 237.3L177.8 237.0L178.0 236.9L178.2 238.6L178.4 239.6L178.6 241.2L178.8 244.6L179.0 246.9L179.2 249.5L179.4 249.7L179.6 251.1L179.8 251.9L180.0 254.7L180.2 255.4L180.4 255.7L180.6 257.5L180.8 258.2L181.0 257.0L181.2 259.5L181.4 259.5L181.6 259.4L181.8 259.7L182.0 261.6L182.2 261.7L182.4 262.1L182.6 260.0L182.8 260.4L183.0 261.7L183.2 260.2L183.4 260.6L183.6 259.8L183.8 262.6L184.0 262.0L184.2 261.5L184.4 261.3L184.6 260.8L184.8 260.8L185.0 261.4L185.2 260.3L185.4 261.6L185.6 260.1L185.8 259.6L186.0 260.9L186.2 259.4L186.4 259.3L186.6 257.9L186.8 255.8L187.0 256.9L187.2 254.3L187.4 254.9L187.6 251.4L187.8 249.6L188.0 249.7L188.2 248.2L188.4 246.5L188.6 244.5L188.8 245.5L189.0 243.7L189.2 244.9L189.4 245.7L189.6 247.4L189.8 249.8L190.0 250.2L190.2 252.6L190.4 254.1L190.6 253.5L190.8 255.0L191.0 256.4L191.2 257.0L191.4 258.3L191.6 257.0L191.8 259.4L192.0 259.6L192.2 259.1L192.4 258.3L192.6 259.4L192.8 259.0L193.0 259.8L193.2 259.2L193.4 259.7L193.6 258.7L193.8 259.9L194.0 256.9L194.2 257.7L194.4 258.5L194.6 256.7L194.8 258.0L195.0 256.1L195.2 256.6L195.4 255.2L195.6 254.8L195.8 254.4L196.0 253.2L196.2 251.8L196.4 252.2L196.6 248.9L196.8 246.2L197.0 245.2L197.2 242.4L197.4 239.5L197.6 236.3L197.8 230.2L198.0 227.1L198.2 222.2L198.4 216.0L198.6 210.5L198.8 202.2L199.0 198.1L199.2 194.2L199.4 186.4L199.6 183.0L199.8 180.6L200.0 179.1L200.2 179.9L200.4 179.0L200.6 183.5L200.8 188.4L201.0 192.0L201.2 198.6L201.4 205.9L201.6 211.4L201.8 216.5L202.0 219.5L202.2 226.4L202.4 231.3L202.6 234.9L202.8 238.7L203.0 244.3L203.2 244.6L203.4 246.4L203.6 249.4L203.8 250.7L204.0 252.1L204.2 253.6L204.4 255.2L204.6 255.7L204.8 255.4L205.0 256.8L205.2 257.8L205.4 257.6L205.6 259.2L205.8 259.3L206.0 258.3L206.2 259.5L206.4 261.0L206.6 261.0L206.8 259.9L207.0 260.8L207.2 259.8L207.4 259.4L207.6 261.0L207.8 260.9L208.0 261.3L208.2 261.0L208.4 261.5L208.6 261.0L208.8 261.9L209.0 262.3L209.2 261.8L209.4 262.4L209.6 260.5L209.8 261.2L210.0 262.7L210.2 262.6L210.4 261.0L210.6 260.1L210.8 258.6L211.0 259.3L211.2 259.3L211.4 257.5L211.6 259.1L211.8 259.2L212.0 259.4L212.2 258.6L212.4 260.2L212.6 259.0L212.8 261.6L213.0 261.0L213.2 260.4L213.4 262.6L213.6 262.8L213.8 261.8L214.0 264.2L214.2 262.0L214.4 263.3L214.6 264.2L214.8 261.8L215.0 264.4L215.2 263.8L215.4 264.0L215.6 263.3L215.8 264.5L216.0 263.5L216.2 263.6L216.4 264.1L216.6 263.5L216.8 265.6L217.0 263.4L217.2 263.9L217.4 264.2L217.6 264.4L217.8 265.0L218.0 265.0L218.2 264.1L218.4 264.0L218.6 264.2L218.8 264.7L219.0 264.5L219.2 263.5L219.4 262.2L219.6 265.2L219.8 264.1L220.0 263.3L220.2 263.2L220.4 262.3L220.6 261.6L220.8 261.8L221.0 261.6L221.2 261.1L221.4 260.2L221.6 260.9L221.8 261.5L222.0 260.7L222.2 261.1L222.4 259.8L222.6 261.5L222.8 261.9L223.0 261.4L223.2 261.5L223.4 263.5L223.6 263.0L223.8 264.4L224.0 264.1L224.2 265.2L224.4 264.8L224.6 264.2L224.8 265.6L225.0 265.7L225.2 266.6L225.4 266.0L225.6 266.2L225.8 267.3L226.0 267.6L226.2 267.4L226.4 267.7L226.6 267.2L226.8 267.5L227.0 267.5L227.2 267.1L227.4 266.8L227.6 266.8L227.8 268.4L228.0 266.5L228.2 266.2L228.4 266.0L228.6 266.0L228.8 266.1L229.0 264.8L229.2 264.0L229.4 265.4L229.6 263.7L229.8 264.8L230.0 264.4L230.2 264.8L230.4 264.9L230.6 263.5L230.8 262.4L231.0 261.6L231.2 261.5L231.4 261.7L231.6 259.8L231.8 261.1L232.0 260.8L232.2 261.1L232.4 260.2L232.6 260.6L232.8 260.1L233.0 260.5L233.2 259.7L233.4 261.5L233.6 262.9L233.8 262.3L234.0 262.8L234.2 262.2L234.4 264.4L234.6 263.2L234.8 264.7L235.0 264.5L235.2 264.0L235.4 265.8L235.6 265.3L235.8 265.7L236.0 266.1L236.2 266.0L236.4 265.9L236.6 266.7L236.8 266.2L237.0 266.7L237.2 266.2L237.4 265.7L237.6 266.3L237.8 266.5L238.0 266.9L238.2 267.8L238.4 265.6L238.6 266.9L238.8 265.1L239.0 265.8L239.2 266.1L239.4 264.6L239.6 264.7L239.8 266.0L240.0 265.7L240.2 265.2L240.4 264.4L240.6 266.3L240.8 264.2L241.0 263.3L241.2 264.8L241.4 263.6L241.6 262.5L241.8 263.4L242.0 262.4L242.2 262.7L242.4 262.4L242.6 261.6L242.8 263.3L243.0 263.0L243.2 262.5L243.4 263.1L243.6 264.8L243.8 264.2L244.0 264.8L244.2 265.6L244.4 265.5L244.6 264.6L244.8 266.4L245.0 266.9L245.2 267.0L245.4 267.8L245.6 267.0L245.8 267.4L246.0 268.2L246.2 266.9L246.4 268.5L246.6 268.6L246.8 268.0L247.0 268.9L247.2 268.2L247.4 267.0L247.6 268.6L247.8 268.1L248.0 268.3L248.2 268.2L248.4 269.2L248.6 268.7L248.8 267.8L249.0 268.8L249.2 269.1L249.4 268.1L249.6 268.4L249.8 268.5L250.0 268.5L250.2 269.3L250.4 269.8L250.6 270.6L250.8 270.1L251.0 270.0L251.2 270.2L251.4 270.3L251.6 269.1L251.8 269.9L252.0 269.6L252.2 269.3L252.4 269.0L252.6 269.0L252.8 269.1L253.0 268.3L253.2 269.6L253.4 269.1L253.6 269.1L253.8 269.2L254.0 269.4L254.2 268.3L254.4 268.5L254.6 267.3L254.8 266.7L255.0 266.8L255.2 269.2L255.4 266.6L255.6 268.2L255.8 268.8L256.0 267.2L256.2 268.7L256.4 268.7L256.6 267.9L256.8 268.9L257.0 267.5L257.2 266.4L257.4 267.2L257.6 266.3L257.8 265.6L258.0 265.5L258.2 268.0L258.4 265.7L258.6 265.9L258.8 265.3L259.0 265.6L259.2 265.1L259.4 264.8L259.6 263.9L259.8 263.5L260.0 263.7L260.2 264.1L260.4 265.2L260.6 264.1L260.8 264.4L261.0 263.2L261.2 262.5L261.4 261.5L261.6 262.4L261.8 260.8L262.0 262.3L262.2 263.9L262.4 263.1L262.6 264.0L262.8 263.1L263.0 262.6L263.2 263.5L263.4 263.8L263.6 265.2L263.8 265.9L264.0 264.0L264.2 264.5L264.4 264.7L264.6 264.7L264.8 264.1L265.0 265.1L265.2 265.4L265.4 265.4L265.6 264.1L265.8 264.9L266.0 263.6L266.2 265.5L266.4 263.9L266.6 264.4L266.8 264.1L267.0 263.9L267.2 263.4L267.4 262.7L267.6 265.2L267.8 263.9L268.0 263.8L268.2 265.0L268.4 263.2L268.6 263.5L268.8 263.0L269.0 263.7L269.2 263.1L269.4 262.8L269.6 262.2L269.8 262.4L270.0 262.9L270.2 260.3L270.4 261.5L270.6 261.1L270.8 261.0L271.0 259.6L271.2 261.5L271.4 260.1L271.6 260.4L271.8 260.0L272.0 259.0L272.2 259.7L272.4 258.5L272.6 259.1L272.8 259.4L273.0 259.4L273.2 259.3L273.4 259.0L273.6 260.5L273.8 259.0L274.0 257.6L274.2 257.8L274.4 257.5L274.6 257.6L274.8 257.0L275.0 256.5L275.2 258.0L275.4 256.4L275.6 255.7L275.8 255.3L276.0 254.8L276.2 255.4L276.4 254.0L276.6 253.7L276.8 249.6L277.0 251.0L277.2 250.3L277.4 249.5L277.6 246.2L277.8 242.9L278.0 242.2L278.2 238.5L278.4 234.4L278.6 231.7L278.8 228.9L279.0 224.5L279.2 219.2L279.4 212.5L279.6 209.4L279.8 200.7L280.0 195.4L280.2 188.3L280.4 184.5L280.6 178.7L280.8 174.7L281.0 171.0L281.2 169.2L281.4 169.4L281.6 169.4L281.8 174.6L282.0 178.9L282.2 183.1L282.4 189.1L282.6 195.3L282.8 202.4L283.0 207.5L283.2 212.8L283.4 217.7L283.6 221.9L283.8 227.0L284.0 231.6L284.2 234.9L284.4 238.2L284.6 241.5L284.8 243.6L285.0 245.5L285.2 247.5L285.4 248.6L285.6 249.6L285.8 251.0L286.0 250.2L286.2 253.2L286.4 251.9L286.6 254.0L286.8 253.9L287.0 255.1L287.2 254.6L287.4 254.1L287.6 255.9L287.8 255.4L288.0 255.5L288.2 255.6L288.4 256.4L288.6 256.4L288.8 256.0L289.0 254.7L289.2 255.5L289.4 255.8L289.6 256.9L289.8 255.7L290.0 255.1L290.2 255.8L290.4 254.5L290.6 254.3L290.8 254.0L291.0 252.4L291.2 253.9L291.4 253.1L291.6 252.3L291.8 251.5L292.0 252.5L292.2 253.4L292.4 252.0L292.6 251.9L292.8 253.1L293.0 251.8L293.2 251.4L293.4 252.8L293.6 252.6L293.8 252.9L294.0 252.6L294.2 253.1L294.4 252.4L294.6 251.8L294.8 251.6L295.0 251.9L295.2 251.5L295.4 250.8L295.6 249.8L295.8 245.7L296.0 246.2L296.2 245.2L296.4 243.8L296.6 240.4L296.8 240.2L297.0 236.5L297.2 232.5L297.4 229.4L297.6 224.8L297.8 219.9L298.0 215.8L298.2 209.6L298.4 203.1L298.6 197.7L298.8 192.1L299.0 185.5L299.2 181.8L299.4 175.4L299.6 173.9L299.8 171.0L300.0 168.9L300.2 170.7L300.4 174.1L300.6 177.1L300.8 181.3L301.0 188.1L301.2 195.7L301.4 199.4L301.6 207.3L301.8 213.0L302.0 218.6L302.2 223.8L302.4 228.8L302.6 234.3L302.8 238.0L303.0 240.4L303.2 245.5L303.4 246.1L303.6 250.0L303.8 251.7L304.0 254.2L304.2 255.2L304.4 257.0L304.6 257.4L304.8 259.1L305.0 259.5L305.2 261.6L305.4 260.2L305.6 262.2L305.8 262.2L306.0 262.5L306.2 262.4L306.4 263.5L306.6 262.5L306.8 262.9L307.0 264.8L307.2 263.4L307.4 265.9L307.6 264.9L307.8 265.5L308.0 265.6L308.2 266.1L308.4 265.7L308.6 265.9L308.8 266.2L309.0 267.3L309.2 267.5L309.4 267.8L309.6 267.2L309.8 267.0L310.0 266.0L310.2 267.8L310.4 268.1L310.6 267.3L310.8 268.3L311.0 268.7L311.2 267.9L311.4 268.7L311.6 268.2L311.8 266.7L312.0 267.6L312.2 267.5L312.4 268.1L312.6 266.9L312.8 267.1L313.0 266.5L313.2 266.9L313.4 266.8L313.6 267.2L313.8 266.8L314.0 266.1L314.2 266.0L314.4 265.7L314.6 265.5L314.8 266.4L315.0 263.3L315.2 264.9L315.4 265.1L315.6 265.5L315.8 263.6L316.0 264.4L316.2 264.5L316.4 263.2L316.6 261.8L316.8 262.6L317.0 261.6L317.2 262.8L317.4 261.5L317.6 263.6L317.8 262.6L318.0 262.3L318.2 263.0L318.4 263.2L318.6 264.9L318.8 266.3L319.0 265.6L319.2 267.0L319.4 266.1L319.6 267.4L319.8 269.2L320.0 266.7L320.2 268.8L320.4 268.9L320.6 266.7L320.8 267.0L321.0 267.4L321.2 268.9L321.4 267.9L321.6 268.1L321.8 268.7L322.0 268.2L322.2 268.3L322.4 267.8L322.6 268.8L322.8 267.3L323.0 269.0L323.2 267.3L323.4 266.7L323.6 267.5L323.8 267.1L324.0 265.0L324.2 266.4L324.4 264.9L324.6 265.1L324.8 266.3L325.0 265.0L325.2 266.0L325.4 265.7L325.6 267.6L325.8 266.3L326.0 265.8L326.2 266.1L326.4 266.4L326.6 267.4L326.8 267.5L327.0 268.3L327.2 267.8L327.4 267.9L327.6 268.1L327.8 267.9L328.0 268.2L328.2 268.7L328.4 268.7L328.6 267.8L328.8 267.0L329.0 267.9L329.2 268.8L329.4 266.8L329.6 268.5L329.8 269.3L330.0 268.7L330.2 268.5L330.4 270.8L330.6 270.6L330.8 269.6L331.0 270.9L331.2 271.0L331.4 269.4L331.6 272.3L331.8 269.8L332.0 270.4L332.2 269.9L332.4 270.9L332.6 269.9L332.8 271.0L333.0 271.9L333.2 271.3L333.4 271.1L333.6 272.5L333.8 270.8L334.0 272.3L334.2 271.4L334.4 271.9L334.6 271.8L334.8 271.9L335.0 271.9L335.2 271.4L335.4 271.6L335.6 272.3L335.8 272.0L336.0 271.2L336.2 271.5L336.4 271.5L336.6 271.9L336.8 272.1L337.0 271.9L337.2 271.3L337.4 271.8L337.6 270.6L337.8 269.4L338.0 271.5L338.2 270.2L338.4 270.6L338.6 270.3L338.8 271.6L339.0 270.1L339.2 271.1L339.4 270.5L339.6 269.8L339.8 269.4L340.0 270.8L340.2 270.6L340.4 270.7L340.6 271.4L340.8 270.0L341.0 269.8L341.2 269.4L341.4 269.3L341.6 268.8L341.8 268.2L342.0 270.2L342.2 267.1L342.4 268.5L342.6 268.5L342.8 268.1L343.0 267.1L343.2 267.6L343.4 267.3L343.6 266.7L343.8 267.4L344.0 267.0L344.2 266.9L344.4 267.7L344.6 266.4L344.8 267.4L345.0 266.6L345.2 267.3L345.4 267.0L345.6 267.0L345.8 266.0L346.0 266.1L346.2 265.9L346.4 266.6L346.6 266.8L346.8 266.9L347.0 265.5L347.2 265.7L347.4 264.2L347.6 263.4L347.8 264.1L348.0 263.8L348.2 262.6L348.4 261.8L348.6 262.8L348.8 261.0L349.0 259.4L349.2 261.3L349.4 258.5L349.6 256.9L349.8 256.2L350.0 253.6L350.2 253.8L350.4 249.8L350.6 248.4L350.8 247.7L351.0 245.7L351.2 246.1L351.4 242.9L351.6 242.9L351.8 243.5L352.0 244.0L352.2 245.0L352.4 245.5L352.6 248.3L352.8 247.8L353.0 249.9L353.2 252.2L353.4 253.0L353.6 254.7L353.8 256.1L354.0 257.5L354.2 258.5L354.4 260.2L354.6 260.5L354.8 263.0L355.0 262.4L355.2 265.9L355.4 266.3L355.6 266.5L355.8 266.0L356.0 266.2L356.2 267.9L356.4 267.5L356.6 268.0L356.8 267.3L357.0 268.9L357.2 267.7L357.4 268.5L357.6 267.3L357.8 268.3L358.0 269.2L358.2 268.7L358.4 268.8L358.6 269.8L358.8 269.2L359.0 270.3L359.2 267.6L359.4 269.9L359.6 269.9L359.8 268.5L360.0 268.7L360.2 270.4L360.4 269.0L360.6 269.3L360.8 270.3L361.0 269.6L361.2 270.2L361.4 269.2L361.6 270.1L361.8 270.7L362.0 270.1L362.2 268.3L362.4 270.4L362.6 269.9L362.8 269.1L363.0 270.8L363.2 268.4L363.4 271.0L363.6 269.0L363.8 270.4L364.0 269.0L364.2 267.8L364.4 268.6L364.6 268.5L364.8 268.2L365.0 268.2L365.2 266.2L365.4 266.7L365.6 266.2L365.8 264.7L366.0 263.5L366.2 262.7L366.4 263.1L366.6 262.4L366.8 260.3L367.0 259.2L367.2 260.5L367.4 258.0L367.6 259.0L367.8 258.2L368.0 257.6L368.2 259.4L368.4 259.7L368.6 261.6L368.8 263.0L369.0 262.1L369.2 263.9L369.4 264.8L369.6 264.5L369.8 265.1L370.0 267.7L370.2 266.9L370.4 267.8L370.6 268.2L370.8 268.8L371.0 269.0L371.2 270.4L371.4 271.1L371.6 270.2L371.8 269.7L372.0 271.0L372.2 270.1L372.4 270.9L372.6 272.4L372.8 273.4L373.0 272.0L373.2 271.1L373.4 272.5L373.6 270.3L373.8 271.6L374.0 273.3L374.2 272.7L374.4 271.2L374.6 271.0L374.8 273.0L375.0 272.3L375.2 271.9L375.4 272.7L375.6 272.0L375.8 271.0L376.0 273.1L376.2 272.0L376.4 271.8L376.6 271.5L376.8 272.7L377.0 272.0L377.2 273.0L377.4 272.4L377.6 273.4L377.8 272.3L378.0 272.1L378.2 271.2L378.4 271.8L378.6 273.2L378.8 274.9L379.0 271.7L379.2 271.9L379.4 272.9L379.6 273.0L379.8 272.1L380.0 272.7L380.2 271.4L380.4 272.4L380.6 273.3L380.8 273.9L381.0 272.5L381.2 272.4L381.4 273.0L381.6 273.4L381.8 273.0L382.0 272.0L382.2 272.9L382.4 273.3L382.6 272.1L382.8 271.6L383.0 273.0L383.2 272.8L383.4 273.3L383.6 272.6L383.8 272.1L384.0 272.2L384.2 271.8L384.4 271.8L384.6 272.1L384.8 272.2L385.0 273.3L385.2 271.6L385.4 272.5L385.6 272.0L385.8 273.6L386.0 272.7L386.2 272.2L386.4 273.1L386.6 272.5L386.8 272.1L387.0 273.6L387.2 273.0L387.4 273.7L387.6 273.3L387.8 273.0L388.0 272.5L388.2 271.6L388.4 272.9L388.6 272.5L388.8 272.9L389.0 272.4L389.2 271.9L389.4 271.6L389.6 272.9L389.8 273.3L390.0 272.2L390.2 272.7L390.4 273.4L390.6 271.7L390.8 272.1L391.0 271.5L391.2 273.2L391.4 272.6L391.6 272.0L391.8 271.1L392.0 272.2L392.2 273.1L392.4 272.2L392.6 272.1L392.8 272.9L393.0 271.5L393.2 272.4L393.4 272.8L393.6 271.8L393.8 271.8L394.0 272.6L394.2 272.3L394.4 272.2L394.6 272.6L394.8 272.6L395.0 271.7L395.2 271.9L395.4 272.7L395.6 273.2L395.8 273.4L396.0 271.8L396.2 273.2L396.4 273.0L396.6 272.4L396.8 272.8L397.0 273.1L397.2 273.8L397.4 271.7L397.6 272.9L397.8 272.4L398.0 272.3L398.2 273.3L398.4 273.1L398.6 271.7L398.8 272.3L399.0 272.7L399.2 271.4L399.4 273.1L399.6 272.4L399.8 272.6L400.0 272.8L400.2 273.9L400.4 272.5L400.6 272.3L400.8 273.8L401.0 272.2L401.2 272.1L401.4 271.5L401.6 273.3L401.8 272.7L402.0 272.9L402.2 272.7L402.4 272.5L402.6 272.0L402.8 272.0L403.0 272.9L403.2 272.7L403.4 273.8L403.6 272.0L403.8 272.2L404.0 271.8L404.2 273.6L404.4 271.7L404.6 273.1L404.8 273.6L405.0 272.5L405.2 273.1L405.4 271.0L405.6 272.3L405.8 271.3L406.0 272.7L406.2 272.6L406.4 272.0L406.6 273.2L406.8 272.8L407.0 272.1L407.2 272.1L407.4 271.4L407.6 272.3L407.8 274.0L408.0 271.9L408.2 272.7L408.4 272.0L408.6 272.9L408.8 272.6L409.0 272.1L409.2 270.9L409.4 271.8L409.6 273.0L409.8 271.8L410.0 272.4L410.2 271.5L410.4 270.4L410.6 271.9L410.8 271.7L411.0 270.9L411.2 270.9L411.4 271.3L411.6 270.4L411.8 271.0L412.0 270.3L412.2 268.5L412.4 269.9L412.6 269.4L412.8 268.9L413.0 269.6L413.2 268.6L413.4 269.1L413.6 269.2L413.8 268.2L414.0 266.7L414.2 267.0L414.4 268.0L414.6 266.9L414.8 266.2L415.0 266.6L415.2 266.8L415.4 266.6L415.6 266.8L415.8 265.7L416.0 266.1L416.2 266.2L416.4 266.5L416.6 265.2L416.8 266.8L417.0 266.2L417.2 268.5L417.4 268.9L417.6 269.3L417.8 269.0L418.0 268.3L418.2 269.7L418.4 269.2L418.6 270.1L418.8 269.2L419.0 269.7L419.2 270.8L419.4 272.0L419.6 270.9L419.8 272.8L420.0 273.4L420.2 270.6L420.4 271.8L420.6 271.2L420.8 272.0L421.0 271.9L421.2 272.3L421.4 273.2L421.6 273.3L421.8 272.9L422.0 272.8L422.2 273.0L422.4 273.1L422.6 273.5L422.8 273.1L423.0 273.6L423.2 272.3L423.4 273.9L423.6 274.6L423.8 273.5L424.0 272.4L424.2 274.5L424.4 273.3L424.6 271.3L424.8 273.4L425.0 274.0L425.2 273.9L425.4 274.6L425.6 274.1L425.8 273.8L426.0 272.3L426.2 272.9L426.4 273.9L426.6 274.3L426.8 273.0L427.0 273.4L427.2 274.2L427.4 272.4L427.6 272.4L427.8 273.7L428.0 274.1L428.2 273.6L428.4 272.2L428.6 274.0L428.8 273.0L429.0 274.5L429.2 273.9L429.4 274.2L429.6 274.5L429.8 273.6L430.0 274.6L430.2 275.0L430.4 274.3L430.6 275.1L430.8 273.6L431.0 274.8L431.2 274.3L431.4 273.4L431.6 274.0L431.8 273.7L432.0 273.7L432.2 274.2L432.4 274.9L432.6 273.9L432.8 274.2L433.0 273.1L433.2 274.2L433.4 275.0L433.6 274.8L433.8 274.5L434.0 273.8L434.2 273.5L434.4 274.1L434.6 273.2L434.8 273.3L435.0 274.9L435.2 273.5L435.4 275.5L435.6 273.1L435.8 274.5L436.0 273.3L436.2 274.3L436.4 273.3L436.6 274.1L436.8 273.9L437.0 273.7L437.2 274.4L437.4 275.1L437.6 273.5L437.8 274.5L438.0 273.9L438.2 273.8L438.4 275.4L438.6 272.1L438.8 273.2L439.0 272.3L439.2 273.3L439.4 273.3L439.6 276.3L439.8 273.7L440.0 274.7L440.2 274.3L440.4 272.9L440.6 273.5L440.8 274.4L441.0 273.2L441.2 273.2L441.4 273.3L441.6 271.8L441.8 272.3L442.0 273.1L442.2 273.2L442.4 272.0L442.6 272.4L442.8 272.5L443.0 272.5L443.2 273.1L443.4 272.6L443.6 272.6L443.8 271.4L444.0 271.6L444.2 272.6L444.4 271.2L444.6 272.5L444.8 271.8L445.0 271.7L445.2 272.8L445.4 271.8L445.6 271.7L445.8 271.8L446.0 272.3L446.2 274.3L446.4 270.7L446.6 272.3L446.8 272.2L447.0 273.1L447.2 272.1L447.4 270.6L447.6 273.4L447.8 271.6L448.0 272.4L448.2 271.5L448.4 271.7L448.6 272.2L448.8 273.2L449.0 273.3L449.2 272.2L449.4 273.1L449.6 272.5L449.8 272.9L450.0 273.0L450.2 273.3L450.4 272.5L450.6 272.9L450.8 273.2L451.0 273.1L451.2 272.5L451.4 274.5L451.6 272.9L451.8 273.8L452.0 273.5L452.2 274.3L452.4 271.8L452.6 275.0L452.8 273.4L453.0 272.7L453.2 273.7L453.4 275.4L453.6 274.1L453.8 272.9L454.0 273.5L454.2 274.9L454.4 272.9L454.6 273.8L454.8 273.8L455.0 275.7L455.2 273.9L455.4 275.1L455.6 273.7L455.8 273.6L456.0 275.0L456.2 274.7L456.4 273.0L456.6 274.8L456.8 274.9L457.0 273.9L457.2 274.6L457.4 274.6L457.6 274.1L457.8 274.0L458.0 274.0L458.2 274.3L458.4 273.5L458.6 274.5L458.8 273.5L459.0 274.6L459.2 274.5L459.4 273.9L459.6 275.3L459.8 276.1L460.0 275.7L460.2 273.7L460.4 275.6L460.6 274.9L460.8 274.7L461.0 274.3L461.2 274.8L461.4 275.8L461.6 275.2L461.8 274.5L462.0 274.3L462.2 274.5L462.4 275.3L462.6 276.2L462.8 274.1L463.0 274.9L463.2 274.6L463.4 274.3L463.6 275.2L463.8 275.3L464.0 273.9L464.2 274.2L464.4 275.9L464.6 275.2L464.8 275.4L465.0 274.6L465.2 274.7L465.4 275.4L465.6 274.7L465.8 274.2L466.0 275.1L466.2 275.7L466.4 274.3L466.6 275.9L466.8 275.6L467.0 274.5L467.2 275.1L467.4 275.1L467.6 275.6L467.8 275.6L468.0 274.2L468.2 274.2L468.4 275.9L468.6 275.3L468.8 275.5L469.0 275.4L469.2 276.3L469.4 274.3L469.6 276.0L469.8 274.6L470.0 275.8L470.2 276.2L470.4 274.2L470.6 275.5L470.8 275.0L471.0 275.0L471.2 275.3L471.4 274.5L471.6 274.5L471.8 275.7L472.0 275.9L472.2 274.8L472.4 274.2L472.6 277.0L472.8 276.1L473.0 275.5L473.2 274.5L473.4 274.8L473.6 275.5L473.8 274.6L474.0 276.5L474.2 275.4L474.4 275.6L474.6 274.5L474.8 274.6L475.0 274.7L475.2 275.5L475.4 275.1L475.6 275.1L475.8 275.5L476.0 275.5L476.2 276.4L476.4 275.1L476.6 274.5L476.8 275.3L477.0 276.4L477.2 274.9L477.4 275.3L477.6 275.0L477.8 275.6L478.0 275.4L478.2 274.6L478.4 275.1L478.6 275.9L478.8 276.0L479.0 275.9L479.2 275.8L479.4 274.9L479.6 274.9L479.8 275.8L480.0 274.3L480.2 275.1L480.4 273.7L480.6 274.8L480.8 274.5L481.0 274.1L481.2 275.4L481.4 274.4L481.6 274.7L481.8 274.7L482.0 274.3L482.2 275.8L482.4 274.4L482.6 274.8L482.8 273.6L483.0 274.2L483.2 274.2L483.4 274.1L483.6 273.8L483.8 274.2L484.0 275.1L484.2 273.8L484.4 273.6L484.6 273.3L484.8 275.3L485.0 274.4L485.2 273.4L485.4 273.3L485.6 272.1L485.8 272.3L486.0 272.3L486.2 272.0L486.4 271.0L486.6 270.8L486.8 271.5L487.0 271.1L487.2 269.1L487.4 270.4L487.6 271.0L487.8 269.4L488.0 269.8L488.2 268.4L488.4 269.9L488.6 268.3L488.8 268.1L489.0 268.8L489.2 270.7L489.4 268.6L489.6 268.1L489.8 269.5L490.0 269.5L490.2 270.7L490.4 268.8L490.6 268.8L490.8 269.9L491.0 270.7L491.2 271.0L491.4 271.8L491.6 270.1L491.8 270.9L492.0 271.7L492.2 272.7L492.4 272.6L492.6 272.2L492.8 272.0L493.0 273.6L493.2 273.9L493.4 275.4L493.6 273.5L493.8 275.0L494.0 273.0L494.2 273.7L494.4 273.7L494.6 274.0L494.8 273.8L495.0 274.2L495.2 274.7L495.4 274.5L495.6 275.4L495.8 274.9L496.0 275.0L496.2 276.2L496.4 275.4L496.6 275.3L496.8 275.2L497.0 275.4L497.2 275.8L497.4 274.8L497.6 276.3L497.8 276.6L498.0 276.3L498.2 275.2L498.4 274.4L498.6 275.2L498.8 275.7L499.0 276.2L499.2 275.5L499.4 275.4L499.6 276.8L499.8 275.2L500.0 276.5L500.2 276.4L500.4 274.7L500.6 275.9L500.8 275.3L501.0 275.1L501.2 274.4L501.4 274.6L501.6 276.1L501.8 275.5L502.0 276.0L502.2 275.0L502.4 275.6L502.6 275.6L502.8 274.7L503.0 274.6L503.2 276.2L503.4 276.0L503.6 275.2L503.8 275.8L504.0 276.4L504.2 277.2L504.4 275.3L504.6 276.4L504.8 277.5L505.0 276.0L505.2 277.0L505.4 274.0L505.6 277.0L505.8 275.9L506.0 274.6L506.2 276.5L506.4 276.7L506.6 276.8L506.8 276.8L507.0 275.9L507.2 275.4L507.4 275.6L507.6 275.9L507.8 276.3L508.0 275.6L508.2 276.0L508.4 276.6L508.6 276.2L508.8 277.7L509.0 277.6L509.2 275.1L509.4 275.6L509.6 275.0L509.8 275.1L510.0 276.4L510.2 275.2L510.4 275.2L510.6 275.8L510.8 276.6L511.0 275.7L511.2 275.7L511.4 276.6L511.6 276.3L511.8 276.3L512.0 276.6L512.2 275.2L512.4 276.1L512.6 275.4L512.8 276.7L513.0 276.5L513.2 275.1L513.4 276.9L513.6 275.0L513.8 276.7L514.0 276.0L514.2 275.2L514.4 275.0L514.6 275.6L514.8 275.8L515.0 275.3L515.2 276.2L515.4 274.7L515.6 275.7L515.8 275.7L516.0 274.3L516.2 275.9L516.4 274.7L516.6 273.8L516.8 275.2L517.0 275.5L517.2 276.3L517.4 275.2L517.6 276.7L517.8 276.6L518.0 276.3L518.2 276.5L518.4 275.8L518.6 275.1L518.8 275.9L519.0 276.1L519.2 275.6L519.4 275.2L519.6 274.2L519.8 275.8L520.0 275.6L520.2 274.3L520.4 275.3L520.6 275.8L520.8 275.1L521.0 275.8L521.2 275.7L521.4 274.0L521.6 274.9L521.8 275.4L522.0 275.7L522.2 276.1L522.4 273.6L522.6 274.9L522.8 275.5L523.0 275.8L523.2 276.1L523.4 274.1L523.6 274.5L523.8 274.0L524.0 275.3L524.2 273.6L524.4 275.4L524.6 275.1L524.8 274.7L525.0 272.6L525.2 273.6L525.4 274.6L525.6 272.8L525.8 273.6L526.0 273.5L526.2 274.1L526.4 273.5L526.6 273.4L526.8 272.7L527.0 272.8L527.2 272.6L527.4 273.1L527.6 272.2L527.8 272.9L528.0 270.7L528.2 272.7L528.4 271.5L528.6 272.3L528.8 271.3L529.0 271.7L529.2 272.0L529.4 270.3L529.6 270.6L529.8 270.3L530.0 270.4L530.2 268.8L530.4 269.7L530.6 269.4L530.8 268.8L531.0 269.0L531.2 267.8L531.4 269.7L531.6 268.8L531.8 269.6L532.0 267.3L532.2 266.8L532.4 267.6L532.6 265.9L532.8 267.1L533.0 266.1L533.2 266.1L533.4 266.3L533.6 265.8L533.8 266.9L534.0 265.7L534.2 264.0L534.4 265.4L534.6 263.4L534.8 264.1L535.0 262.8L535.2 262.8" stroke="#3a6cab" stroke-width="1.0"/>
</g>
<g stroke="#cc8189" stroke-width="1.5"><line x1="81.9" y1="400.6" x2="81.9" y2="379.8"/><line x1="90.9" y1="400.6" x2="90.9" y2="371.6"/><line x1="100.4" y1="400.6" x2="100.4" y2="371.6"/><line x1="113.1" y1="400.6" x2="113.1" y2="351"/><line x1="119.2" y1="400.6" x2="119.2" y2="371.6"/><line x1="126.7" y1="400.6" x2="126.7" y2="360"/><line x1="139.2" y1="400.6" x2="139.2" y2="360"/><line x1="146.2" y1="400.6" x2="146.2" y2="379.8"/><line x1="154.4" y1="400.6" x2="154.4" y2="360"/><line x1="158.8" y1="400.6" x2="158.8" y2="379.8"/><line x1="169.3" y1="400.6" x2="169.3" y2="371.7"/><line x1="175.9" y1="400.6" x2="175.9" y2="371.7"/><line x1="186.6" y1="400.6" x2="186.6" y2="379.8"/><line x1="191" y1="400.6" x2="191" y2="371.7"/><line x1="200.1" y1="400.6" x2="200.1" y2="360"/><line x1="210" y1="400.6" x2="210" y2="325.1"/><line x1="217.8" y1="400.6" x2="217.8" y2="379.8"/><line x1="236.8" y1="400.6" x2="236.8" y2="360"/><line x1="251.2" y1="400.6" x2="251.2" y2="372"/><line x1="265.4" y1="400.6" x2="265.4" y2="372"/><line x1="284.4" y1="400.6" x2="284.4" y2="319.8"/><line x1="290.5" y1="400.6" x2="290.5" y2="380"/><line x1="306.7" y1="400.6" x2="306.7" y2="312.3"/><line x1="327.5" y1="400.6" x2="327.5" y2="380"/><line x1="353.1" y1="400.6" x2="353.1" y2="343.1"/><line x1="368.5" y1="400.6" x2="368.5" y2="359.6"/><line x1="387.3" y1="400.6" x2="387.3" y2="379.6"/><line x1="414.2" y1="400.6" x2="414.2" y2="359.6"/><line x1="431.3" y1="400.6" x2="431.3" y2="379.6"/><line x1="485.8" y1="400.6" x2="485.8" y2="371.8"/><line x1="526.4" y1="400.6" x2="526.4" y2="350.9"/></g>
<rect x="398.1" y="16.6" width="137.2" height="107.8" fill="#fff" stroke="#808080" stroke-width="1.3"/>
<g stroke-width="1.3">
<line x1="400.5" y1="33.45" x2="454" y2="33.45" stroke="#f4858a"/>
<line x1="400.5" y1="68.45" x2="454" y2="68.45" stroke="#a0b8d3"/>
<line x1="400.5" y1="102.8" x2="454" y2="102.8" stroke="#ffdf8c" stroke-width="1.6"/>
</g>
<g font-size="24">
<text x="459.8" y="41.6">Cu<tspan font-size="16" dy="6.3">2</tspan><tspan dy="-6.3">S-P</tspan></text>
<text x="459.8" y="76.1">Cu<tspan font-size="16" dy="6.3">2</tspan><tspan dy="-6.3">S-C</tspan></text>
<text x="459.8" y="110.6">Cu<tspan font-size="16" dy="6.3">2</tspan><tspan dy="-6.3">S-S</tspan></text>
</g>
<rect x="57.2" y="16.6" width="478.1" height="384.0" fill="none" stroke="#000" stroke-width="1.5"/>
<g stroke="#000" stroke-width="1.5"><line x1="84.2" y1="400.6" x2="84.2" y2="404.1"/><line x1="129.3" y1="400.6" x2="129.3" y2="407.6"/><line x1="174.4" y1="400.6" x2="174.4" y2="404.1"/><line x1="219.5" y1="400.6" x2="219.5" y2="407.6"/><line x1="264.6" y1="400.6" x2="264.6" y2="404.1"/><line x1="309.7" y1="400.6" x2="309.7" y2="407.6"/><line x1="354.8" y1="400.6" x2="354.8" y2="404.1"/><line x1="399.9" y1="400.6" x2="399.9" y2="407.6"/><line x1="445.0" y1="400.6" x2="445.0" y2="404.1"/><line x1="490.1" y1="400.6" x2="490.1" y2="407.6"/><line x1="535.2" y1="400.6" x2="535.2" y2="404.1"/></g>
<g font-size="26"><text x="129.3" y="433" text-anchor="middle">30</text><text x="219.5" y="433" text-anchor="middle">40</text><text x="309.7" y="433" text-anchor="middle">50</text><text x="399.9" y="433" text-anchor="middle">60</text><text x="490.1" y="433" text-anchor="middle">70</text></g>
<text x="282.4" y="459.5" font-size="26" text-anchor="middle">2theta / °</text>
<text transform="translate(25.8,192.5) rotate(-90)" font-size="25.1" text-anchor="middle">Intensity / a. u.</text>
<text x="76.3" y="318.5" font-size="22.5">Ref. code</text>
<text x="76.3" y="344.9" font-size="22.5">00-009-0328</text>
</svg>
</body></html>
